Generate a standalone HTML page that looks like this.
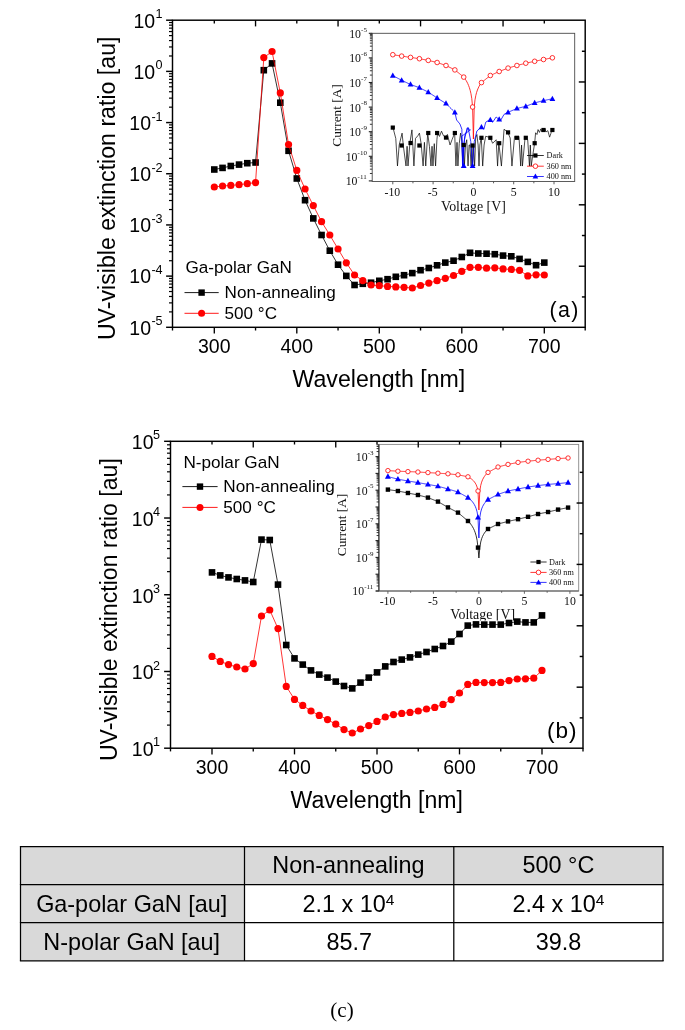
<!DOCTYPE html>
<html lang="en">
<head>
<meta charset="utf-8">
<title>UV-visible extinction ratio of Ga-polar and N-polar GaN</title>
<style>
html,body{margin:0;padding:0;background:#fff;}
body{width:685px;height:1030px;overflow:hidden;}
svg text{white-space:pre;}
</style>
</head>
<body>
<svg width="685" height="1030" viewBox="0 0 685 1030" style="display:block">
<rect x="0" y="0" width="685" height="1030" fill="#fff"/>
<g>
<rect x="372.2" y="33.3" width="202.5" height="148.2" fill="#fff" stroke="#4a4a4a" stroke-width="0.9"/>
<line x1="368.8" y1="33.3" x2="372.2" y2="33.3" stroke="#222" stroke-width="1.1" />
<line x1="368.8" y1="57.9" x2="372.2" y2="57.9" stroke="#222" stroke-width="1.1" />
<line x1="369.9" y1="50.49" x2="372.2" y2="50.49" stroke="#222" stroke-width="0.9" />
<line x1="369.9" y1="46.16" x2="372.2" y2="46.16" stroke="#222" stroke-width="0.9" />
<line x1="369.9" y1="43.09" x2="372.2" y2="43.09" stroke="#222" stroke-width="0.9" />
<line x1="369.9" y1="40.71" x2="372.2" y2="40.71" stroke="#222" stroke-width="0.9" />
<line x1="369.9" y1="38.76" x2="372.2" y2="38.76" stroke="#222" stroke-width="0.9" />
<line x1="369.9" y1="37.11" x2="372.2" y2="37.11" stroke="#222" stroke-width="0.9" />
<line x1="369.9" y1="35.68" x2="372.2" y2="35.68" stroke="#222" stroke-width="0.9" />
<line x1="369.9" y1="34.43" x2="372.2" y2="34.43" stroke="#222" stroke-width="0.9" />
<line x1="368.8" y1="82.5" x2="372.2" y2="82.5" stroke="#222" stroke-width="1.1" />
<line x1="369.9" y1="75.09" x2="372.2" y2="75.09" stroke="#222" stroke-width="0.9" />
<line x1="369.9" y1="70.76" x2="372.2" y2="70.76" stroke="#222" stroke-width="0.9" />
<line x1="369.9" y1="67.69" x2="372.2" y2="67.69" stroke="#222" stroke-width="0.9" />
<line x1="369.9" y1="65.31" x2="372.2" y2="65.31" stroke="#222" stroke-width="0.9" />
<line x1="369.9" y1="63.36" x2="372.2" y2="63.36" stroke="#222" stroke-width="0.9" />
<line x1="369.9" y1="61.71" x2="372.2" y2="61.71" stroke="#222" stroke-width="0.9" />
<line x1="369.9" y1="60.28" x2="372.2" y2="60.28" stroke="#222" stroke-width="0.9" />
<line x1="369.9" y1="59.03" x2="372.2" y2="59.03" stroke="#222" stroke-width="0.9" />
<line x1="368.8" y1="107.1" x2="372.2" y2="107.1" stroke="#222" stroke-width="1.1" />
<line x1="369.9" y1="99.69" x2="372.2" y2="99.69" stroke="#222" stroke-width="0.9" />
<line x1="369.9" y1="95.36" x2="372.2" y2="95.36" stroke="#222" stroke-width="0.9" />
<line x1="369.9" y1="92.29" x2="372.2" y2="92.29" stroke="#222" stroke-width="0.9" />
<line x1="369.9" y1="89.91" x2="372.2" y2="89.91" stroke="#222" stroke-width="0.9" />
<line x1="369.9" y1="87.96" x2="372.2" y2="87.96" stroke="#222" stroke-width="0.9" />
<line x1="369.9" y1="86.31" x2="372.2" y2="86.31" stroke="#222" stroke-width="0.9" />
<line x1="369.9" y1="84.88" x2="372.2" y2="84.88" stroke="#222" stroke-width="0.9" />
<line x1="369.9" y1="83.63" x2="372.2" y2="83.63" stroke="#222" stroke-width="0.9" />
<line x1="368.8" y1="131.7" x2="372.2" y2="131.7" stroke="#222" stroke-width="1.1" />
<line x1="369.9" y1="124.29" x2="372.2" y2="124.29" stroke="#222" stroke-width="0.9" />
<line x1="369.9" y1="119.96" x2="372.2" y2="119.96" stroke="#222" stroke-width="0.9" />
<line x1="369.9" y1="116.89" x2="372.2" y2="116.89" stroke="#222" stroke-width="0.9" />
<line x1="369.9" y1="114.51" x2="372.2" y2="114.51" stroke="#222" stroke-width="0.9" />
<line x1="369.9" y1="112.56" x2="372.2" y2="112.56" stroke="#222" stroke-width="0.9" />
<line x1="369.9" y1="110.91" x2="372.2" y2="110.91" stroke="#222" stroke-width="0.9" />
<line x1="369.9" y1="109.48" x2="372.2" y2="109.48" stroke="#222" stroke-width="0.9" />
<line x1="369.9" y1="108.23" x2="372.2" y2="108.23" stroke="#222" stroke-width="0.9" />
<line x1="368.8" y1="156.3" x2="372.2" y2="156.3" stroke="#222" stroke-width="1.1" />
<line x1="369.9" y1="148.89" x2="372.2" y2="148.89" stroke="#222" stroke-width="0.9" />
<line x1="369.9" y1="144.56" x2="372.2" y2="144.56" stroke="#222" stroke-width="0.9" />
<line x1="369.9" y1="141.49" x2="372.2" y2="141.49" stroke="#222" stroke-width="0.9" />
<line x1="369.9" y1="139.11" x2="372.2" y2="139.11" stroke="#222" stroke-width="0.9" />
<line x1="369.9" y1="137.16" x2="372.2" y2="137.16" stroke="#222" stroke-width="0.9" />
<line x1="369.9" y1="135.51" x2="372.2" y2="135.51" stroke="#222" stroke-width="0.9" />
<line x1="369.9" y1="134.08" x2="372.2" y2="134.08" stroke="#222" stroke-width="0.9" />
<line x1="369.9" y1="132.83" x2="372.2" y2="132.83" stroke="#222" stroke-width="0.9" />
<line x1="368.8" y1="180.9" x2="372.2" y2="180.9" stroke="#222" stroke-width="1.1" />
<line x1="369.9" y1="173.49" x2="372.2" y2="173.49" stroke="#222" stroke-width="0.9" />
<line x1="369.9" y1="169.16" x2="372.2" y2="169.16" stroke="#222" stroke-width="0.9" />
<line x1="369.9" y1="166.09" x2="372.2" y2="166.09" stroke="#222" stroke-width="0.9" />
<line x1="369.9" y1="163.71" x2="372.2" y2="163.71" stroke="#222" stroke-width="0.9" />
<line x1="369.9" y1="161.76" x2="372.2" y2="161.76" stroke="#222" stroke-width="0.9" />
<line x1="369.9" y1="160.11" x2="372.2" y2="160.11" stroke="#222" stroke-width="0.9" />
<line x1="369.9" y1="158.68" x2="372.2" y2="158.68" stroke="#222" stroke-width="0.9" />
<line x1="369.9" y1="157.43" x2="372.2" y2="157.43" stroke="#222" stroke-width="0.9" />
<line x1="392.8" y1="181.5" x2="392.8" y2="184.3" stroke="#4a4a4a" stroke-width="0.9" />
<line x1="412.95" y1="181.5" x2="412.95" y2="183.3" stroke="#4a4a4a" stroke-width="0.9" />
<line x1="433.1" y1="181.5" x2="433.1" y2="184.3" stroke="#4a4a4a" stroke-width="0.9" />
<line x1="453.25" y1="181.5" x2="453.25" y2="183.3" stroke="#4a4a4a" stroke-width="0.9" />
<line x1="473.4" y1="181.5" x2="473.4" y2="184.3" stroke="#4a4a4a" stroke-width="0.9" />
<line x1="493.55" y1="181.5" x2="493.55" y2="183.3" stroke="#4a4a4a" stroke-width="0.9" />
<line x1="513.7" y1="181.5" x2="513.7" y2="184.3" stroke="#4a4a4a" stroke-width="0.9" />
<line x1="533.85" y1="181.5" x2="533.85" y2="183.3" stroke="#4a4a4a" stroke-width="0.9" />
<line x1="554" y1="181.5" x2="554" y2="184.3" stroke="#4a4a4a" stroke-width="0.9" />
<text x="361.07" y="31.5" font-family='"Liberation Serif", "Times New Roman", Times, serif' font-size="7" text-anchor="start" fill="#111" >-5</text>
<text x="360.97" y="37.7" font-family='"Liberation Serif", "Times New Roman", Times, serif' font-size="11.8" text-anchor="end" fill="#111" >10</text>
<text x="361.07" y="56.1" font-family='"Liberation Serif", "Times New Roman", Times, serif' font-size="7" text-anchor="start" fill="#111" >-6</text>
<text x="360.97" y="62.3" font-family='"Liberation Serif", "Times New Roman", Times, serif' font-size="11.8" text-anchor="end" fill="#111" >10</text>
<text x="361.07" y="80.7" font-family='"Liberation Serif", "Times New Roman", Times, serif' font-size="7" text-anchor="start" fill="#111" >-7</text>
<text x="360.97" y="86.9" font-family='"Liberation Serif", "Times New Roman", Times, serif' font-size="11.8" text-anchor="end" fill="#111" >10</text>
<text x="361.07" y="105.3" font-family='"Liberation Serif", "Times New Roman", Times, serif' font-size="7" text-anchor="start" fill="#111" >-8</text>
<text x="360.97" y="111.5" font-family='"Liberation Serif", "Times New Roman", Times, serif' font-size="11.8" text-anchor="end" fill="#111" >10</text>
<text x="361.07" y="129.9" font-family='"Liberation Serif", "Times New Roman", Times, serif' font-size="7" text-anchor="start" fill="#111" >-9</text>
<text x="360.97" y="136.1" font-family='"Liberation Serif", "Times New Roman", Times, serif' font-size="11.8" text-anchor="end" fill="#111" >10</text>
<text x="357.57" y="154.5" font-family='"Liberation Serif", "Times New Roman", Times, serif' font-size="7" text-anchor="start" fill="#111" >-10</text>
<text x="357.47" y="160.7" font-family='"Liberation Serif", "Times New Roman", Times, serif' font-size="11.8" text-anchor="end" fill="#111" >10</text>
<text x="357.57" y="179.1" font-family='"Liberation Serif", "Times New Roman", Times, serif' font-size="7" text-anchor="start" fill="#111" >-11</text>
<text x="357.47" y="185.3" font-family='"Liberation Serif", "Times New Roman", Times, serif' font-size="11.8" text-anchor="end" fill="#111" >10</text>
<text x="392.4" y="195.8" font-family='"Liberation Serif", "Times New Roman", Times, serif' font-size="11.8" text-anchor="middle" fill="#111" >-10</text>
<text x="432.7" y="195.8" font-family='"Liberation Serif", "Times New Roman", Times, serif' font-size="11.8" text-anchor="middle" fill="#111" >-5</text>
<text x="473.4" y="195.8" font-family='"Liberation Serif", "Times New Roman", Times, serif' font-size="11.8" text-anchor="middle" fill="#111" >0</text>
<text x="513.7" y="195.8" font-family='"Liberation Serif", "Times New Roman", Times, serif' font-size="11.8" text-anchor="middle" fill="#111" >5</text>
<text x="554" y="195.8" font-family='"Liberation Serif", "Times New Roman", Times, serif' font-size="11.8" text-anchor="middle" fill="#111" >10</text>
<text transform="translate(341.4,115.5) rotate(-90)" font-family='"Liberation Serif", "Times New Roman", Times, serif' font-size="13.3" text-anchor="middle" fill="#111">Current [A]</text>
<text x="473.4" y="211" font-family='"Liberation Serif", "Times New Roman", Times, serif' font-size="13.9" text-anchor="middle" fill="#111" >Voltage [V]</text>
</g>
<polyline fill="none" stroke="#f00" stroke-width="0.8" stroke-linejoin="round"  points="392.8,54.7 393.61,54.83 394.41,54.95 395.22,55.08 396.02,55.21 396.83,55.34 397.64,55.46 398.44,55.59 399.25,55.72 400.05,55.85 400.86,55.97 401.67,56.1 402.47,56.22 403.28,56.34 404.08,56.45 404.89,56.57 405.7,56.69 406.5,56.81 407.31,56.93 408.11,57.05 408.92,57.16 409.73,57.28 410.53,57.4 411.34,57.52 412.14,57.64 412.95,57.75 413.76,57.87 414.56,57.99 415.37,58.11 416.17,58.23 416.98,58.35 417.79,58.46 418.59,58.58 419.4,58.7 420.2,58.85 421.01,59.01 421.82,59.16 422.62,59.32 423.43,59.47 424.23,59.63 425.04,59.78 425.85,59.94 426.65,60.09 427.46,60.25 428.26,60.4 429.07,60.59 429.88,60.78 430.68,60.97 431.49,61.16 432.29,61.35 433.1,61.55 433.91,61.74 434.71,61.93 435.52,62.12 436.32,62.31 437.13,62.5 437.94,62.77 438.74,63.05 439.55,63.32 440.35,63.59 441.16,63.86 441.97,64.14 442.77,64.41 443.58,64.68 444.38,64.95 445.19,65.23 446,65.5 446.8,65.9 447.61,66.3 448.41,66.7 449.22,67.1 450.03,67.5 450.83,67.9 451.64,68.3 452.44,68.7 453.25,69.1 454.06,69.5 454.86,69.9 455.67,70.55 456.47,71.21 457.28,71.86 458.09,72.52 458.89,73.17 459.7,73.83 460.5,74.48 461.31,75.14 462.12,75.79 462.92,76.45 463.73,77.1 464.53,78.15 465.34,79.29 466.15,80.56 466.95,81.98 467.76,83.59 468.56,85.44 469.37,87.63 470.18,90.32 470.98,93.78 471.79,98.66 472.59,107 473.4,139 474.21,107.2 475.01,99.79 475.82,95.46 476.62,92.39 477.43,90.01 478.24,88.06 479.04,86.41 479.85,84.98 480.65,83.73 481.46,82.6 482.27,81.95 483.07,81.31 483.88,80.66 484.68,80.02 485.49,79.37 486.3,78.73 487.1,78.08 487.91,77.44 488.71,76.79 489.52,76.15 490.33,75.5 491.13,75.14 491.94,74.77 492.74,74.41 493.55,74.05 494.36,73.68 495.16,73.32 495.97,72.95 496.77,72.59 497.58,72.23 498.39,71.86 499.19,71.5 500,71.19 500.8,70.88 501.61,70.57 502.42,70.26 503.22,69.95 504.03,69.65 504.83,69.34 505.64,69.03 506.45,68.72 507.25,68.41 508.06,68.1 508.86,67.86 509.67,67.63 510.48,67.39 511.28,67.15 512.09,66.92 512.89,66.68 513.7,66.45 514.51,66.21 515.31,65.97 516.12,65.74 516.92,65.5 517.73,65.29 518.54,65.08 519.34,64.87 520.15,64.66 520.95,64.45 521.76,64.25 522.57,64.04 523.37,63.83 524.18,63.62 524.98,63.41 525.79,63.2 526.6,63.03 527.4,62.85 528.21,62.68 529.01,62.51 529.82,62.34 530.63,62.16 531.43,61.99 532.24,61.82 533.04,61.65 533.85,61.47 534.66,61.3 535.46,61.14 536.27,60.97 537.07,60.81 537.88,60.65 538.69,60.48 539.49,60.32 540.3,60.15 541.1,59.99 541.91,59.83 542.72,59.66 543.52,59.5 544.33,59.35 545.13,59.19 545.94,59.04 546.75,58.88 547.55,58.73 548.36,58.57 549.16,58.42 549.97,58.26 550.78,58.11 551.58,57.95 552.39,57.8"/>
<polyline fill="none" stroke="#000" stroke-width="0.7" stroke-linejoin="round"  points="392.88,127.23 395.78,138.4 397.48,165.99 399.19,144.97 402.08,133.14 403.4,146.28 406.02,165.99 407.08,146.28 408,165.99 409.97,142.34 411.94,129.86 412.86,146.28 413.91,165.99 415.49,138.4 417.85,135.77 419.43,133.14 421.14,143.65 423.11,165.99 424.42,142.34 425.74,165.99 427.71,133.14 429.42,146.28 430.99,165.99 432.04,146.28 432.96,165.99 434.28,143.65 435.59,165.99 436.91,139.71 437.56,133.14 439.53,136.43 441.5,131.17 443.48,135.77 445.45,137.08 447.42,134.45 450.05,144.97 452.02,139.71 454.65,133.14 455.96,165.99 457.01,142.34 457.93,165.99 459.24,143.65 460.56,133.14 461.87,141.02 462.79,165.99 463.58,144.97 464.37,165.99 465.42,146.28 466.73,139.71 468.05,165.99 469.1,144.97 469.89,145.04 471.12,166.06 471.99,145.04 472.52,166.06 473.57,146.79 474.62,166.06 475.67,138.03 476.9,134.53 478.13,145.04 479,166.06 479.88,145.04 481.28,137.51 482.68,166.06 484.08,145.04 485.66,136.28 490.04,137.51 492.67,143.29 496.17,139.78 497.57,166.06 498.8,142.76 501.43,166.06 504.05,129.27 507.56,131.9 510.19,138.03 511.94,166.06 514.57,136.28 516.32,137.51 518.95,136.28 520.7,166.06 521.57,145.04 522.45,166.06 525.08,137.51 527.7,139.78 529.46,166.06 530.33,145.04 531.21,166.06 532.96,153.8 534.71,142.76 535.59,132.78 536.99,134.53 538.04,129.62 539.44,132.42 540.84,128.92 542.07,131.9 543.12,129.62 544.7,128.4 546.1,131.9 547.85,130.67 549.6,137.15 550.83,133.65 551.88,129.62"/>
<polyline fill="none" stroke="#00f" stroke-width="0.8" stroke-linejoin="round"  points="392.8,75.6 393.61,76.03 394.41,76.45 395.22,76.88 396.02,77.31 396.83,77.74 397.64,78.16 398.44,78.59 399.25,79.02 400.05,79.45 400.86,79.87 401.67,80.3 402.47,80.68 403.28,81.06 404.08,81.45 404.89,81.83 405.7,82.21 406.5,82.59 407.31,82.97 408.11,83.35 408.92,83.74 409.73,84.12 410.53,84.5 411.34,84.79 412.14,85.08 412.95,85.37 413.76,85.66 414.56,85.95 415.37,86.25 416.17,86.54 416.98,86.83 417.79,87.12 418.59,87.41 419.4,87.7 420.2,88.1 421.01,88.5 421.82,88.9 422.62,89.3 423.43,89.7 424.23,90.1 425.04,90.5 425.85,90.9 426.65,91.3 427.46,91.7 428.26,92.1 429.07,92.64 429.88,93.17 430.68,93.71 431.49,94.25 432.29,94.78 433.1,95.32 433.91,95.85 434.71,96.39 435.52,96.93 436.32,97.46 437.13,98 437.94,98.5 438.74,99 439.55,99.5 440.35,100 441.16,100.5 441.97,101 442.77,101.5 443.58,102 444.38,102.5 445.19,103 446,103.5 446.8,104.31 447.61,105.12 448.41,105.93 449.22,106.74 450.03,107.55 450.83,108.35 451.64,109.16 452.44,109.97 453.25,110.78 454.06,111.59 454.86,112.4 456.62,120 459.9,123.94 461.87,129.2 462.53,165.99 463.58,146.28 464.5,139.71 467.13,127.88 470.41,129.86 461.66,136.28 462.88,166.06 464.64,136.28 468.14,127.52 470.77,141.53 472.52,166.06 474.27,141.53 476.9,131.02 481.28,126.99 483.91,129.27 485.66,122.26 488.29,120.51 490.04,119.99 492.67,122.26 496.17,117.01 498.8,119.29 500.55,120.51 504.05,114.38 507.56,112.45 508.86,111.95 509.67,111.61 510.48,111.26 511.28,110.92 512.09,110.57 512.89,110.23 513.7,109.88 514.51,109.54 515.31,109.19 516.12,108.85 516.92,108.5 517.73,108.3 518.54,108.1 519.34,107.9 520.15,107.7 520.95,107.5 521.76,107.3 522.57,107.1 523.37,106.9 524.18,106.7 524.98,106.5 525.79,106.3 526.6,105.99 527.4,105.68 528.21,105.37 529.01,105.06 529.82,104.75 530.63,104.45 531.43,104.14 532.24,103.83 533.04,103.52 533.85,103.21 534.66,102.9 535.46,102.69 536.27,102.48 537.07,102.27 537.88,102.06 538.69,101.85 539.49,101.65 540.3,101.44 541.1,101.23 541.91,101.02 542.72,100.81 543.52,100.6 544.33,100.44 545.13,100.27 545.94,100.11 546.75,99.95 547.55,99.78 548.36,99.62 549.16,99.45 549.97,99.29 550.78,99.13 551.58,98.96 552.39,98.8"/>
<rect x="390.7" y="125.5" width="4.2" height="4.2" fill="#000"/>
<rect x="399.57" y="143.4" width="4.2" height="4.2" fill="#000"/>
<rect x="408.43" y="140.9" width="4.2" height="4.2" fill="#000"/>
<rect x="417.3" y="143.4" width="4.2" height="4.2" fill="#000"/>
<rect x="426.16" y="130.9" width="4.2" height="4.2" fill="#000"/>
<rect x="435.03" y="130.9" width="4.2" height="4.2" fill="#000"/>
<rect x="443.9" y="135.5" width="4.2" height="4.2" fill="#000"/>
<rect x="452.76" y="130.9" width="4.2" height="4.2" fill="#000"/>
<rect x="461.63" y="142.9" width="4.2" height="4.2" fill="#000"/>
<rect x="470.49" y="143.4" width="4.2" height="4.2" fill="#000"/>
<rect x="479.36" y="135.7" width="4.2" height="4.2" fill="#000"/>
<rect x="488.23" y="135.7" width="4.2" height="4.2" fill="#000"/>
<rect x="497.09" y="141.1" width="4.2" height="4.2" fill="#000"/>
<rect x="505.96" y="130.3" width="4.2" height="4.2" fill="#000"/>
<rect x="514.82" y="135.7" width="4.2" height="4.2" fill="#000"/>
<rect x="523.69" y="135.7" width="4.2" height="4.2" fill="#000"/>
<rect x="532.56" y="141.1" width="4.2" height="4.2" fill="#000"/>
<rect x="541.42" y="127.9" width="4.2" height="4.2" fill="#000"/>
<rect x="550.29" y="127.9" width="4.2" height="4.2" fill="#000"/>
<polygon points="392.8,72.47 389.9,77.69 395.7,77.69" fill="#00f"/>
<polygon points="401.67,77.17 398.77,82.39 404.57,82.39" fill="#00f"/>
<polygon points="410.53,81.37 407.63,86.59 413.43,86.59" fill="#00f"/>
<polygon points="419.4,84.57 416.5,89.79 422.3,89.79" fill="#00f"/>
<polygon points="428.26,88.97 425.36,94.19 431.16,94.19" fill="#00f"/>
<polygon points="437.13,94.87 434.23,100.09 440.03,100.09" fill="#00f"/>
<polygon points="446,100.37 443.1,105.59 448.9,105.59" fill="#00f"/>
<polygon points="454.86,109.27 451.96,114.49 457.76,114.49" fill="#00f"/>
<polygon points="463.73,162.77 460.83,167.99 466.63,167.99" fill="#00f"/>
<polygon points="472.59,162.77 469.69,167.99 475.49,167.99" fill="#00f"/>
<polygon points="481.46,124.07 478.56,129.29 484.36,129.29" fill="#00f"/>
<polygon points="490.33,116.87 487.43,122.09 493.23,122.09" fill="#00f"/>
<polygon points="499.19,116.17 496.29,121.39 502.09,121.39" fill="#00f"/>
<polygon points="508.06,109.17 505.16,114.39 510.96,114.39" fill="#00f"/>
<polygon points="516.92,105.37 514.02,110.59 519.82,110.59" fill="#00f"/>
<polygon points="525.79,103.17 522.89,108.39 528.69,108.39" fill="#00f"/>
<polygon points="534.66,99.77 531.76,104.99 537.56,104.99" fill="#00f"/>
<polygon points="543.52,97.47 540.62,102.69 546.42,102.69" fill="#00f"/>
<polygon points="552.39,95.67 549.49,100.89 555.29,100.89" fill="#00f"/>
<circle cx="392.8" cy="54.7" r="2.3" fill="#fff" stroke="#f00" stroke-width="0.8"/>
<circle cx="401.67" cy="56.1" r="2.3" fill="#fff" stroke="#f00" stroke-width="0.8"/>
<circle cx="410.53" cy="57.4" r="2.3" fill="#fff" stroke="#f00" stroke-width="0.8"/>
<circle cx="419.4" cy="58.7" r="2.3" fill="#fff" stroke="#f00" stroke-width="0.8"/>
<circle cx="428.26" cy="60.4" r="2.3" fill="#fff" stroke="#f00" stroke-width="0.8"/>
<circle cx="437.13" cy="62.5" r="2.3" fill="#fff" stroke="#f00" stroke-width="0.8"/>
<circle cx="446" cy="65.5" r="2.3" fill="#fff" stroke="#f00" stroke-width="0.8"/>
<circle cx="454.86" cy="69.9" r="2.3" fill="#fff" stroke="#f00" stroke-width="0.8"/>
<circle cx="463.73" cy="77.1" r="2.3" fill="#fff" stroke="#f00" stroke-width="0.8"/>
<circle cx="472.59" cy="107" r="2.3" fill="#fff" stroke="#f00" stroke-width="0.8"/>
<circle cx="481.46" cy="82.6" r="2.3" fill="#fff" stroke="#f00" stroke-width="0.8"/>
<circle cx="490.33" cy="75.5" r="2.3" fill="#fff" stroke="#f00" stroke-width="0.8"/>
<circle cx="499.19" cy="71.5" r="2.3" fill="#fff" stroke="#f00" stroke-width="0.8"/>
<circle cx="508.06" cy="68.1" r="2.3" fill="#fff" stroke="#f00" stroke-width="0.8"/>
<circle cx="516.92" cy="65.5" r="2.3" fill="#fff" stroke="#f00" stroke-width="0.8"/>
<circle cx="525.79" cy="63.2" r="2.3" fill="#fff" stroke="#f00" stroke-width="0.8"/>
<circle cx="534.66" cy="61.3" r="2.3" fill="#fff" stroke="#f00" stroke-width="0.8"/>
<circle cx="543.52" cy="59.5" r="2.3" fill="#fff" stroke="#f00" stroke-width="0.8"/>
<circle cx="552.39" cy="57.8" r="2.3" fill="#fff" stroke="#f00" stroke-width="0.8"/>
<line x1="527" y1="155.5" x2="543.8" y2="155.5" stroke="#000" stroke-width="0.8" />
<rect x="533.3" y="153.4" width="4.2" height="4.2" fill="#000"/>
<text x="546.6" y="158.21" font-family='"Liberation Serif", "Times New Roman", Times, serif' font-size="8.2" text-anchor="start" fill="#111" >Dark</text>
<line x1="527" y1="166.2" x2="543.8" y2="166.2" stroke="#f00" stroke-width="0.8" />
<circle cx="535.4" cy="166.2" r="2.3" fill="#fff" stroke="#f00" stroke-width="0.8"/>
<text x="546.6" y="168.91" font-family='"Liberation Serif", "Times New Roman", Times, serif' font-size="8.2" text-anchor="start" fill="#111" >360 nm</text>
<line x1="527" y1="176.5" x2="543.8" y2="176.5" stroke="#00f" stroke-width="0.8" />
<polygon points="535.4,173.48 532.6,178.52 538.2,178.52" fill="#00f"/>
<text x="546.6" y="179.21" font-family='"Liberation Serif", "Times New Roman", Times, serif' font-size="8.2" text-anchor="start" fill="#111" >400 nm</text>
<g>
<rect x="378.9" y="444.4" width="199.8" height="146.6" fill="#fff" stroke="#888" stroke-width="0.9"/>
<polyline fill="none" stroke="#2a2a2a" stroke-width="1.1" stroke-linejoin="round"  points="378.9,444.4 378.9,591"/>
<polyline fill="none" stroke="#5a5a5a" stroke-width="1.1" stroke-linejoin="round"  points="375.9,591 578.7,591"/>
<line x1="375.5" y1="456.6" x2="378.9" y2="456.6" stroke="#222" stroke-width="1.1" />
<line x1="376.6" y1="451.54" x2="378.9" y2="451.54" stroke="#222" stroke-width="0.9" />
<line x1="376.6" y1="448.58" x2="378.9" y2="448.58" stroke="#222" stroke-width="0.9" />
<line x1="376.6" y1="446.49" x2="378.9" y2="446.49" stroke="#222" stroke-width="0.9" />
<line x1="376.6" y1="444.86" x2="378.9" y2="444.86" stroke="#222" stroke-width="0.9" />
<line x1="375.5" y1="473.4" x2="378.9" y2="473.4" stroke="#222" stroke-width="1.1" />
<line x1="376.6" y1="468.34" x2="378.9" y2="468.34" stroke="#222" stroke-width="0.9" />
<line x1="376.6" y1="465.38" x2="378.9" y2="465.38" stroke="#222" stroke-width="0.9" />
<line x1="376.6" y1="463.29" x2="378.9" y2="463.29" stroke="#222" stroke-width="0.9" />
<line x1="376.6" y1="461.66" x2="378.9" y2="461.66" stroke="#222" stroke-width="0.9" />
<line x1="376.6" y1="460.33" x2="378.9" y2="460.33" stroke="#222" stroke-width="0.9" />
<line x1="376.6" y1="459.2" x2="378.9" y2="459.2" stroke="#222" stroke-width="0.9" />
<line x1="376.6" y1="458.23" x2="378.9" y2="458.23" stroke="#222" stroke-width="0.9" />
<line x1="376.6" y1="457.37" x2="378.9" y2="457.37" stroke="#222" stroke-width="0.9" />
<line x1="375.5" y1="490.2" x2="378.9" y2="490.2" stroke="#222" stroke-width="1.1" />
<line x1="376.6" y1="485.14" x2="378.9" y2="485.14" stroke="#222" stroke-width="0.9" />
<line x1="376.6" y1="482.18" x2="378.9" y2="482.18" stroke="#222" stroke-width="0.9" />
<line x1="376.6" y1="480.09" x2="378.9" y2="480.09" stroke="#222" stroke-width="0.9" />
<line x1="376.6" y1="478.46" x2="378.9" y2="478.46" stroke="#222" stroke-width="0.9" />
<line x1="376.6" y1="477.13" x2="378.9" y2="477.13" stroke="#222" stroke-width="0.9" />
<line x1="376.6" y1="476" x2="378.9" y2="476" stroke="#222" stroke-width="0.9" />
<line x1="376.6" y1="475.03" x2="378.9" y2="475.03" stroke="#222" stroke-width="0.9" />
<line x1="376.6" y1="474.17" x2="378.9" y2="474.17" stroke="#222" stroke-width="0.9" />
<line x1="375.5" y1="507" x2="378.9" y2="507" stroke="#222" stroke-width="1.1" />
<line x1="376.6" y1="501.94" x2="378.9" y2="501.94" stroke="#222" stroke-width="0.9" />
<line x1="376.6" y1="498.98" x2="378.9" y2="498.98" stroke="#222" stroke-width="0.9" />
<line x1="376.6" y1="496.89" x2="378.9" y2="496.89" stroke="#222" stroke-width="0.9" />
<line x1="376.6" y1="495.26" x2="378.9" y2="495.26" stroke="#222" stroke-width="0.9" />
<line x1="376.6" y1="493.93" x2="378.9" y2="493.93" stroke="#222" stroke-width="0.9" />
<line x1="376.6" y1="492.8" x2="378.9" y2="492.8" stroke="#222" stroke-width="0.9" />
<line x1="376.6" y1="491.83" x2="378.9" y2="491.83" stroke="#222" stroke-width="0.9" />
<line x1="376.6" y1="490.97" x2="378.9" y2="490.97" stroke="#222" stroke-width="0.9" />
<line x1="375.5" y1="523.8" x2="378.9" y2="523.8" stroke="#222" stroke-width="1.1" />
<line x1="376.6" y1="518.74" x2="378.9" y2="518.74" stroke="#222" stroke-width="0.9" />
<line x1="376.6" y1="515.78" x2="378.9" y2="515.78" stroke="#222" stroke-width="0.9" />
<line x1="376.6" y1="513.69" x2="378.9" y2="513.69" stroke="#222" stroke-width="0.9" />
<line x1="376.6" y1="512.06" x2="378.9" y2="512.06" stroke="#222" stroke-width="0.9" />
<line x1="376.6" y1="510.73" x2="378.9" y2="510.73" stroke="#222" stroke-width="0.9" />
<line x1="376.6" y1="509.6" x2="378.9" y2="509.6" stroke="#222" stroke-width="0.9" />
<line x1="376.6" y1="508.63" x2="378.9" y2="508.63" stroke="#222" stroke-width="0.9" />
<line x1="376.6" y1="507.77" x2="378.9" y2="507.77" stroke="#222" stroke-width="0.9" />
<line x1="375.5" y1="540.6" x2="378.9" y2="540.6" stroke="#222" stroke-width="1.1" />
<line x1="376.6" y1="535.54" x2="378.9" y2="535.54" stroke="#222" stroke-width="0.9" />
<line x1="376.6" y1="532.58" x2="378.9" y2="532.58" stroke="#222" stroke-width="0.9" />
<line x1="376.6" y1="530.49" x2="378.9" y2="530.49" stroke="#222" stroke-width="0.9" />
<line x1="376.6" y1="528.86" x2="378.9" y2="528.86" stroke="#222" stroke-width="0.9" />
<line x1="376.6" y1="527.53" x2="378.9" y2="527.53" stroke="#222" stroke-width="0.9" />
<line x1="376.6" y1="526.4" x2="378.9" y2="526.4" stroke="#222" stroke-width="0.9" />
<line x1="376.6" y1="525.43" x2="378.9" y2="525.43" stroke="#222" stroke-width="0.9" />
<line x1="376.6" y1="524.57" x2="378.9" y2="524.57" stroke="#222" stroke-width="0.9" />
<line x1="375.5" y1="557.4" x2="378.9" y2="557.4" stroke="#222" stroke-width="1.1" />
<line x1="376.6" y1="552.34" x2="378.9" y2="552.34" stroke="#222" stroke-width="0.9" />
<line x1="376.6" y1="549.38" x2="378.9" y2="549.38" stroke="#222" stroke-width="0.9" />
<line x1="376.6" y1="547.29" x2="378.9" y2="547.29" stroke="#222" stroke-width="0.9" />
<line x1="376.6" y1="545.66" x2="378.9" y2="545.66" stroke="#222" stroke-width="0.9" />
<line x1="376.6" y1="544.33" x2="378.9" y2="544.33" stroke="#222" stroke-width="0.9" />
<line x1="376.6" y1="543.2" x2="378.9" y2="543.2" stroke="#222" stroke-width="0.9" />
<line x1="376.6" y1="542.23" x2="378.9" y2="542.23" stroke="#222" stroke-width="0.9" />
<line x1="376.6" y1="541.37" x2="378.9" y2="541.37" stroke="#222" stroke-width="0.9" />
<line x1="375.5" y1="574.2" x2="378.9" y2="574.2" stroke="#222" stroke-width="1.1" />
<line x1="376.6" y1="569.14" x2="378.9" y2="569.14" stroke="#222" stroke-width="0.9" />
<line x1="376.6" y1="566.18" x2="378.9" y2="566.18" stroke="#222" stroke-width="0.9" />
<line x1="376.6" y1="564.09" x2="378.9" y2="564.09" stroke="#222" stroke-width="0.9" />
<line x1="376.6" y1="562.46" x2="378.9" y2="562.46" stroke="#222" stroke-width="0.9" />
<line x1="376.6" y1="561.13" x2="378.9" y2="561.13" stroke="#222" stroke-width="0.9" />
<line x1="376.6" y1="560" x2="378.9" y2="560" stroke="#222" stroke-width="0.9" />
<line x1="376.6" y1="559.03" x2="378.9" y2="559.03" stroke="#222" stroke-width="0.9" />
<line x1="376.6" y1="558.17" x2="378.9" y2="558.17" stroke="#222" stroke-width="0.9" />
<line x1="375.5" y1="591" x2="378.9" y2="591" stroke="#222" stroke-width="1.1" />
<line x1="376.6" y1="585.94" x2="378.9" y2="585.94" stroke="#222" stroke-width="0.9" />
<line x1="376.6" y1="582.98" x2="378.9" y2="582.98" stroke="#222" stroke-width="0.9" />
<line x1="376.6" y1="580.89" x2="378.9" y2="580.89" stroke="#222" stroke-width="0.9" />
<line x1="376.6" y1="579.26" x2="378.9" y2="579.26" stroke="#222" stroke-width="0.9" />
<line x1="376.6" y1="577.93" x2="378.9" y2="577.93" stroke="#222" stroke-width="0.9" />
<line x1="376.6" y1="576.8" x2="378.9" y2="576.8" stroke="#222" stroke-width="0.9" />
<line x1="376.6" y1="575.83" x2="378.9" y2="575.83" stroke="#222" stroke-width="0.9" />
<line x1="376.6" y1="574.97" x2="378.9" y2="574.97" stroke="#222" stroke-width="0.9" />
<line x1="387.9" y1="591" x2="387.9" y2="593.8" stroke="#5a5a5a" stroke-width="0.9" />
<line x1="410.65" y1="591" x2="410.65" y2="592.8" stroke="#5a5a5a" stroke-width="0.9" />
<line x1="433.4" y1="591" x2="433.4" y2="593.8" stroke="#5a5a5a" stroke-width="0.9" />
<line x1="456.15" y1="591" x2="456.15" y2="592.8" stroke="#5a5a5a" stroke-width="0.9" />
<line x1="478.9" y1="591" x2="478.9" y2="593.8" stroke="#5a5a5a" stroke-width="0.9" />
<line x1="501.65" y1="591" x2="501.65" y2="592.8" stroke="#5a5a5a" stroke-width="0.9" />
<line x1="524.4" y1="591" x2="524.4" y2="593.8" stroke="#5a5a5a" stroke-width="0.9" />
<line x1="547.15" y1="591" x2="547.15" y2="592.8" stroke="#5a5a5a" stroke-width="0.9" />
<line x1="569.9" y1="591" x2="569.9" y2="593.8" stroke="#5a5a5a" stroke-width="0.9" />
<text x="367.77" y="454.8" font-family='"Liberation Serif", "Times New Roman", Times, serif' font-size="7" text-anchor="start" fill="#111" >-3</text>
<text x="367.67" y="461" font-family='"Liberation Serif", "Times New Roman", Times, serif' font-size="11.8" text-anchor="end" fill="#111" >10</text>
<text x="367.77" y="488.4" font-family='"Liberation Serif", "Times New Roman", Times, serif' font-size="7" text-anchor="start" fill="#111" >-5</text>
<text x="367.67" y="494.6" font-family='"Liberation Serif", "Times New Roman", Times, serif' font-size="11.8" text-anchor="end" fill="#111" >10</text>
<text x="367.77" y="522" font-family='"Liberation Serif", "Times New Roman", Times, serif' font-size="7" text-anchor="start" fill="#111" >-7</text>
<text x="367.67" y="528.2" font-family='"Liberation Serif", "Times New Roman", Times, serif' font-size="11.8" text-anchor="end" fill="#111" >10</text>
<text x="367.77" y="555.6" font-family='"Liberation Serif", "Times New Roman", Times, serif' font-size="7" text-anchor="start" fill="#111" >-9</text>
<text x="367.67" y="561.8" font-family='"Liberation Serif", "Times New Roman", Times, serif' font-size="11.8" text-anchor="end" fill="#111" >10</text>
<text x="364.27" y="589.2" font-family='"Liberation Serif", "Times New Roman", Times, serif' font-size="7" text-anchor="start" fill="#111" >-11</text>
<text x="364.17" y="595.4" font-family='"Liberation Serif", "Times New Roman", Times, serif' font-size="11.8" text-anchor="end" fill="#111" >10</text>
<text x="387.5" y="605.4" font-family='"Liberation Serif", "Times New Roman", Times, serif' font-size="11.8" text-anchor="middle" fill="#111" >-10</text>
<text x="433" y="605.4" font-family='"Liberation Serif", "Times New Roman", Times, serif' font-size="11.8" text-anchor="middle" fill="#111" >-5</text>
<text x="478.9" y="605.4" font-family='"Liberation Serif", "Times New Roman", Times, serif' font-size="11.8" text-anchor="middle" fill="#111" >0</text>
<text x="524.4" y="605.4" font-family='"Liberation Serif", "Times New Roman", Times, serif' font-size="11.8" text-anchor="middle" fill="#111" >5</text>
<text x="569.9" y="605.4" font-family='"Liberation Serif", "Times New Roman", Times, serif' font-size="11.8" text-anchor="middle" fill="#111" >10</text>
<text transform="translate(346,525) rotate(-90)" font-family='"Liberation Serif", "Times New Roman", Times, serif' font-size="13.3" text-anchor="middle" fill="#111">Current [A]</text>
<clipPath id="cb"><rect x="328.9" y="444.4" width="300" height="176.1"/></clipPath>
<text x="482.7" y="619" font-family='"Liberation Serif", "Times New Roman", Times, serif' font-size="13.9" text-anchor="middle" fill="#111" clip-path="url(#cb)">Voltage [V]</text>
</g>
<polyline fill="none" stroke="#000" stroke-width="0.8" stroke-linejoin="round"  points="387.9,489.6 388.81,489.73 389.72,489.85 390.63,489.98 391.54,490.11 392.45,490.24 393.36,490.36 394.27,490.49 395.18,490.62 396.09,490.75 397,490.87 397.91,491 398.82,491.18 399.73,491.36 400.64,491.55 401.55,491.73 402.46,491.91 403.37,492.09 404.28,492.27 405.19,492.45 406.1,492.64 407.01,492.82 407.92,493 408.83,493.18 409.74,493.36 410.65,493.55 411.56,493.73 412.47,493.91 413.38,494.09 414.29,494.27 415.2,494.45 416.11,494.64 417.02,494.82 417.93,495 418.84,495.24 419.75,495.47 420.66,495.71 421.57,495.95 422.48,496.18 423.39,496.42 424.3,496.65 425.21,496.89 426.12,497.13 427.03,497.36 427.94,497.6 428.85,497.96 429.76,498.33 430.67,498.69 431.58,499.05 432.49,499.42 433.4,499.78 434.31,500.15 435.22,500.51 436.13,500.87 437.04,501.24 437.95,501.6 438.86,502.13 439.77,502.65 440.68,503.18 441.59,503.71 442.5,504.24 443.41,504.76 444.32,505.29 445.23,505.82 446.14,506.35 447.05,506.87 447.96,507.4 448.87,507.87 449.78,508.35 450.69,508.82 451.6,509.29 452.51,509.76 453.42,510.24 454.33,510.71 455.24,511.18 456.15,511.65 457.06,512.13 457.97,512.6 458.88,513.36 459.79,514.13 460.7,514.89 461.61,515.65 462.52,516.42 463.43,517.18 464.34,517.95 465.25,518.71 466.16,519.47 467.07,520.24 467.98,521 468.89,521.93 469.8,522.95 470.71,524.08 471.62,525.34 472.53,526.77 473.44,528.42 474.35,530.37 475.26,532.76 476.17,535.84 477.08,540.18 477.99,547.6 478.9,558 479.81,547.6 480.72,542 481.63,538.73 482.54,536.4 483.45,534.6 484.36,533.13 485.27,531.88 486.18,530.8 487.09,529.85 488,529 488.91,528.55 489.82,528.09 490.73,527.64 491.64,527.18 492.55,526.73 493.46,526.27 494.37,525.82 495.28,525.36 496.19,524.91 497.1,524.45 498.01,524 498.92,523.76 499.83,523.53 500.74,523.29 501.65,523.05 502.56,522.82 503.47,522.58 504.38,522.35 505.29,522.11 506.2,521.87 507.11,521.64 508.02,521.4 508.93,521.2 509.84,521 510.75,520.8 511.66,520.6 512.57,520.4 513.48,520.2 514.39,520 515.3,519.8 516.21,519.6 517.12,519.4 518.03,519.2 518.94,518.98 519.85,518.76 520.76,518.55 521.67,518.33 522.58,518.11 523.49,517.89 524.4,517.67 525.31,517.45 526.22,517.24 527.13,517.02 528.04,516.8 528.95,516.55 529.86,516.29 530.77,516.04 531.68,515.78 532.59,515.53 533.5,515.27 534.41,515.02 535.32,514.76 536.23,514.51 537.14,514.25 538.05,514 538.96,513.82 539.87,513.64 540.78,513.45 541.69,513.27 542.6,513.09 543.51,512.91 544.42,512.73 545.33,512.55 546.24,512.36 547.15,512.18 548.06,512 548.97,511.78 549.88,511.56 550.79,511.35 551.7,511.13 552.61,510.91 553.52,510.69 554.43,510.47 555.34,510.25 556.25,510.04 557.16,509.82 558.07,509.6 558.98,509.42 559.89,509.24 560.8,509.05 561.71,508.87 562.62,508.69 563.53,508.51 564.44,508.33 565.35,508.15 566.26,507.96 567.17,507.78 568.08,507.6"/>
<polyline fill="none" stroke="#00f" stroke-width="0.8" stroke-linejoin="round"  points="387.9,476.6 388.81,476.84 389.72,477.07 390.63,477.31 391.54,477.55 392.45,477.78 393.36,478.02 394.27,478.25 395.18,478.49 396.09,478.73 397,478.96 397.91,479.2 398.82,479.36 399.73,479.53 400.64,479.69 401.55,479.85 402.46,480.02 403.37,480.18 404.28,480.35 405.19,480.51 406.1,480.67 407.01,480.84 407.92,481 408.83,481.15 409.74,481.29 410.65,481.44 411.56,481.58 412.47,481.73 413.38,481.87 414.29,482.02 415.2,482.16 416.11,482.31 417.02,482.45 417.93,482.6 418.84,482.76 419.75,482.93 420.66,483.09 421.57,483.25 422.48,483.42 423.39,483.58 424.3,483.75 425.21,483.91 426.12,484.07 427.03,484.24 427.94,484.4 428.85,484.56 429.76,484.73 430.67,484.89 431.58,485.05 432.49,485.22 433.4,485.38 434.31,485.55 435.22,485.71 436.13,485.87 437.04,486.04 437.95,486.2 438.86,486.45 439.77,486.71 440.68,486.96 441.59,487.22 442.5,487.47 443.41,487.73 444.32,487.98 445.23,488.24 446.14,488.49 447.05,488.75 447.96,489 448.87,489.27 449.78,489.55 450.69,489.82 451.6,490.09 452.51,490.36 453.42,490.64 454.33,490.91 455.24,491.18 456.15,491.45 457.06,491.73 457.97,492 458.88,492.51 459.79,493.02 460.7,493.53 461.61,494.04 462.52,494.55 463.43,495.05 464.34,495.56 465.25,496.07 466.16,496.58 467.07,497.09 467.98,497.6 468.89,498.29 469.8,499.05 470.71,499.89 471.62,500.83 472.53,501.89 473.44,503.12 474.35,504.58 475.26,506.35 476.17,508.65 477.08,511.88 477.99,517.4 478.9,538 479.81,517.4 480.72,512.04 481.63,508.91 482.54,506.68 483.45,504.96 484.36,503.55 485.27,502.36 486.18,501.32 487.09,500.41 488,499.6 488.91,499.13 489.82,498.65 490.73,498.18 491.64,497.71 492.55,497.24 493.46,496.76 494.37,496.29 495.28,495.82 496.19,495.35 497.1,494.87 498.01,494.4 498.92,494.09 499.83,493.78 500.74,493.47 501.65,493.16 502.56,492.85 503.47,492.55 504.38,492.24 505.29,491.93 506.2,491.62 507.11,491.31 508.02,491 508.93,490.82 509.84,490.64 510.75,490.45 511.66,490.27 512.57,490.09 513.48,489.91 514.39,489.73 515.3,489.55 516.21,489.36 517.12,489.18 518.03,489 518.94,488.82 519.85,488.64 520.76,488.45 521.67,488.27 522.58,488.09 523.49,487.91 524.4,487.73 525.31,487.55 526.22,487.36 527.13,487.18 528.04,487 528.95,486.87 529.86,486.75 530.77,486.62 531.68,486.49 532.59,486.36 533.5,486.24 534.41,486.11 535.32,485.98 536.23,485.85 537.14,485.73 538.05,485.6 538.96,485.49 539.87,485.38 540.78,485.27 541.69,485.16 542.6,485.05 543.51,484.95 544.42,484.84 545.33,484.73 546.24,484.62 547.15,484.51 548.06,484.4 548.97,484.33 549.88,484.25 550.79,484.18 551.7,484.11 552.61,484.04 553.52,483.96 554.43,483.89 555.34,483.82 556.25,483.75 557.16,483.67 558.07,483.6 558.98,483.51 559.89,483.42 560.8,483.33 561.71,483.24 562.62,483.15 563.53,483.05 564.44,482.96 565.35,482.87 566.26,482.78 567.17,482.69 568.08,482.6"/>
<polyline fill="none" stroke="#f00" stroke-width="0.8" stroke-linejoin="round"  points="387.9,470.6 388.81,470.65 389.72,470.71 390.63,470.76 391.54,470.82 392.45,470.87 393.36,470.93 394.27,470.98 395.18,471.04 396.09,471.09 397,471.15 397.91,471.2 398.82,471.24 399.73,471.27 400.64,471.31 401.55,471.35 402.46,471.38 403.37,471.42 404.28,471.45 405.19,471.49 406.1,471.53 407.01,471.56 407.92,471.6 408.83,471.64 409.74,471.67 410.65,471.71 411.56,471.75 412.47,471.78 413.38,471.82 414.29,471.85 415.2,471.89 416.11,471.93 417.02,471.96 417.93,472 418.84,472.05 419.75,472.11 420.66,472.16 421.57,472.22 422.48,472.27 423.39,472.33 424.3,472.38 425.21,472.44 426.12,472.49 427.03,472.55 427.94,472.6 428.85,472.65 429.76,472.71 430.67,472.76 431.58,472.82 432.49,472.87 433.4,472.93 434.31,472.98 435.22,473.04 436.13,473.09 437.04,473.15 437.95,473.2 438.86,473.25 439.77,473.31 440.68,473.36 441.59,473.42 442.5,473.47 443.41,473.53 444.32,473.58 445.23,473.64 446.14,473.69 447.05,473.75 447.96,473.8 448.87,473.89 449.78,473.98 450.69,474.07 451.6,474.16 452.51,474.25 453.42,474.35 454.33,474.44 455.24,474.53 456.15,474.62 457.06,474.71 457.97,474.8 458.88,474.98 459.79,475.16 460.7,475.35 461.61,475.53 462.52,475.71 463.43,475.89 464.34,476.07 465.25,476.25 466.16,476.44 467.07,476.62 467.98,476.8 468.89,477.3 469.8,477.84 470.71,478.44 471.62,479.12 472.53,479.88 473.44,480.76 474.35,481.8 475.26,483.08 476.17,484.72 477.08,487.04 477.99,491 478.9,510 479.81,491 480.72,485.4 481.63,482.13 482.54,479.8 483.45,478 484.36,476.53 485.27,475.28 486.18,474.2 487.09,473.25 488,472.4 488.91,471.91 489.82,471.42 490.73,470.93 491.64,470.44 492.55,469.95 493.46,469.45 494.37,468.96 495.28,468.47 496.19,467.98 497.1,467.49 498.01,467 498.92,466.76 499.83,466.53 500.74,466.29 501.65,466.05 502.56,465.82 503.47,465.58 504.38,465.35 505.29,465.11 506.2,464.87 507.11,464.64 508.02,464.4 508.93,464.22 509.84,464.04 510.75,463.85 511.66,463.67 512.57,463.49 513.48,463.31 514.39,463.13 515.3,462.95 516.21,462.76 517.12,462.58 518.03,462.4 518.94,462.29 519.85,462.18 520.76,462.07 521.67,461.96 522.58,461.85 523.49,461.75 524.4,461.64 525.31,461.53 526.22,461.42 527.13,461.31 528.04,461.2 528.95,461.11 529.86,461.02 530.77,460.93 531.68,460.84 532.59,460.75 533.5,460.65 534.41,460.56 535.32,460.47 536.23,460.38 537.14,460.29 538.05,460.2 538.96,460.13 539.87,460.05 540.78,459.98 541.69,459.91 542.6,459.84 543.51,459.76 544.42,459.69 545.33,459.62 546.24,459.55 547.15,459.47 548.06,459.4 548.97,459.33 549.88,459.25 550.79,459.18 551.7,459.11 552.61,459.04 553.52,458.96 554.43,458.89 555.34,458.82 556.25,458.75 557.16,458.67 558.07,458.6 558.98,458.55 559.89,458.49 560.8,458.44 561.71,458.38 562.62,458.33 563.53,458.27 564.44,458.22 565.35,458.16 566.26,458.11 567.17,458.05 568.08,458"/>
<rect x="385.7" y="487.4" width="4.4" height="4.4" fill="#000"/>
<rect x="395.71" y="488.8" width="4.4" height="4.4" fill="#000"/>
<rect x="405.72" y="490.8" width="4.4" height="4.4" fill="#000"/>
<rect x="415.73" y="492.8" width="4.4" height="4.4" fill="#000"/>
<rect x="425.74" y="495.4" width="4.4" height="4.4" fill="#000"/>
<rect x="435.75" y="499.4" width="4.4" height="4.4" fill="#000"/>
<rect x="445.76" y="505.2" width="4.4" height="4.4" fill="#000"/>
<rect x="455.77" y="510.4" width="4.4" height="4.4" fill="#000"/>
<rect x="465.78" y="518.8" width="4.4" height="4.4" fill="#000"/>
<rect x="475.79" y="545.4" width="4.4" height="4.4" fill="#000"/>
<rect x="485.8" y="526.8" width="4.4" height="4.4" fill="#000"/>
<rect x="495.81" y="521.8" width="4.4" height="4.4" fill="#000"/>
<rect x="505.82" y="519.2" width="4.4" height="4.4" fill="#000"/>
<rect x="515.83" y="517" width="4.4" height="4.4" fill="#000"/>
<rect x="525.84" y="514.6" width="4.4" height="4.4" fill="#000"/>
<rect x="535.85" y="511.8" width="4.4" height="4.4" fill="#000"/>
<rect x="545.86" y="509.8" width="4.4" height="4.4" fill="#000"/>
<rect x="555.87" y="507.4" width="4.4" height="4.4" fill="#000"/>
<rect x="565.88" y="505.4" width="4.4" height="4.4" fill="#000"/>
<polygon points="387.9,473.36 384.9,478.76 390.9,478.76" fill="#00f"/>
<polygon points="397.91,475.96 394.91,481.36 400.91,481.36" fill="#00f"/>
<polygon points="407.92,477.76 404.92,483.16 410.92,483.16" fill="#00f"/>
<polygon points="417.93,479.36 414.93,484.76 420.93,484.76" fill="#00f"/>
<polygon points="427.94,481.16 424.94,486.56 430.94,486.56" fill="#00f"/>
<polygon points="437.95,482.96 434.95,488.36 440.95,488.36" fill="#00f"/>
<polygon points="447.96,485.76 444.96,491.16 450.96,491.16" fill="#00f"/>
<polygon points="457.97,488.76 454.97,494.16 460.97,494.16" fill="#00f"/>
<polygon points="467.98,494.36 464.98,499.76 470.98,499.76" fill="#00f"/>
<polygon points="477.99,514.16 474.99,519.56 480.99,519.56" fill="#00f"/>
<polygon points="488,496.36 485,501.76 491,501.76" fill="#00f"/>
<polygon points="498.01,491.16 495.01,496.56 501.01,496.56" fill="#00f"/>
<polygon points="508.02,487.76 505.02,493.16 511.02,493.16" fill="#00f"/>
<polygon points="518.03,485.76 515.03,491.16 521.03,491.16" fill="#00f"/>
<polygon points="528.04,483.76 525.04,489.16 531.04,489.16" fill="#00f"/>
<polygon points="538.05,482.36 535.05,487.76 541.05,487.76" fill="#00f"/>
<polygon points="548.06,481.16 545.06,486.56 551.06,486.56" fill="#00f"/>
<polygon points="558.07,480.36 555.07,485.76 561.07,485.76" fill="#00f"/>
<polygon points="568.08,479.36 565.08,484.76 571.08,484.76" fill="#00f"/>
<circle cx="387.9" cy="470.6" r="2.2" fill="#fff" stroke="#f00" stroke-width="0.8"/>
<circle cx="397.91" cy="471.2" r="2.2" fill="#fff" stroke="#f00" stroke-width="0.8"/>
<circle cx="407.92" cy="471.6" r="2.2" fill="#fff" stroke="#f00" stroke-width="0.8"/>
<circle cx="417.93" cy="472" r="2.2" fill="#fff" stroke="#f00" stroke-width="0.8"/>
<circle cx="427.94" cy="472.6" r="2.2" fill="#fff" stroke="#f00" stroke-width="0.8"/>
<circle cx="437.95" cy="473.2" r="2.2" fill="#fff" stroke="#f00" stroke-width="0.8"/>
<circle cx="447.96" cy="473.8" r="2.2" fill="#fff" stroke="#f00" stroke-width="0.8"/>
<circle cx="457.97" cy="474.8" r="2.2" fill="#fff" stroke="#f00" stroke-width="0.8"/>
<circle cx="467.98" cy="476.8" r="2.2" fill="#fff" stroke="#f00" stroke-width="0.8"/>
<circle cx="477.99" cy="491" r="2.2" fill="#fff" stroke="#f00" stroke-width="0.8"/>
<circle cx="488" cy="472.4" r="2.2" fill="#fff" stroke="#f00" stroke-width="0.8"/>
<circle cx="498.01" cy="467" r="2.2" fill="#fff" stroke="#f00" stroke-width="0.8"/>
<circle cx="508.02" cy="464.4" r="2.2" fill="#fff" stroke="#f00" stroke-width="0.8"/>
<circle cx="518.03" cy="462.4" r="2.2" fill="#fff" stroke="#f00" stroke-width="0.8"/>
<circle cx="528.04" cy="461.2" r="2.2" fill="#fff" stroke="#f00" stroke-width="0.8"/>
<circle cx="538.05" cy="460.2" r="2.2" fill="#fff" stroke="#f00" stroke-width="0.8"/>
<circle cx="548.06" cy="459.4" r="2.2" fill="#fff" stroke="#f00" stroke-width="0.8"/>
<circle cx="558.07" cy="458.6" r="2.2" fill="#fff" stroke="#f00" stroke-width="0.8"/>
<circle cx="568.08" cy="458" r="2.2" fill="#fff" stroke="#f00" stroke-width="0.8"/>
<line x1="530.4" y1="562" x2="546.6" y2="562" stroke="#000" stroke-width="0.8" />
<rect x="536.4" y="559.9" width="4.2" height="4.2" fill="#000"/>
<text x="549" y="564.71" font-family='"Liberation Serif", "Times New Roman", Times, serif' font-size="8.2" text-anchor="start" fill="#111" >Dark</text>
<line x1="530.4" y1="572.4" x2="546.6" y2="572.4" stroke="#f00" stroke-width="0.8" />
<circle cx="538.5" cy="572.4" r="2.3" fill="#fff" stroke="#f00" stroke-width="0.8"/>
<text x="549" y="575.11" font-family='"Liberation Serif", "Times New Roman", Times, serif' font-size="8.2" text-anchor="start" fill="#111" >360 nm</text>
<line x1="530.4" y1="582.4" x2="546.6" y2="582.4" stroke="#00f" stroke-width="0.8" />
<polygon points="538.5,579.38 535.7,584.42 541.3,584.42" fill="#00f"/>
<text x="549" y="585.11" font-family='"Liberation Serif", "Times New Roman", Times, serif' font-size="8.2" text-anchor="start" fill="#111" >400 nm</text>
<polyline fill="none" stroke="#000" stroke-width="0.8" stroke-linejoin="round"  points="214.3,169.5 222.55,167.9 230.8,166 239.05,164.6 247.3,163.2 255.55,162.5 263.8,70.2 272.05,63.4 280.3,102.7 288.55,150.8 296.8,178.5 305.05,200.2 313.3,218.4 321.55,235 329.8,250.7 338.05,264.7 346.3,275.9 354.55,285 362.8,283.8 371.05,282.7 379.3,280.8 387.55,279.2 395.8,276.8 404.05,275.2 412.3,273.1 420.55,270.2 428.8,268 437.05,265.3 445.3,262.6 453.55,260.7 461.8,257 470.05,252.8 478.3,253.5 486.55,253.7 494.8,254.2 503.05,255.6 511.3,256.3 519.55,258.9 527.8,261.9 536.05,265.2 544.3,262.6"/>
<rect x="211" y="166.2" width="6.6" height="6.6" fill="#000"/>
<rect x="219.25" y="164.6" width="6.6" height="6.6" fill="#000"/>
<rect x="227.5" y="162.7" width="6.6" height="6.6" fill="#000"/>
<rect x="235.75" y="161.3" width="6.6" height="6.6" fill="#000"/>
<rect x="244" y="159.9" width="6.6" height="6.6" fill="#000"/>
<rect x="252.25" y="159.2" width="6.6" height="6.6" fill="#000"/>
<rect x="260.5" y="66.9" width="6.6" height="6.6" fill="#000"/>
<rect x="268.75" y="60.1" width="6.6" height="6.6" fill="#000"/>
<rect x="277" y="99.4" width="6.6" height="6.6" fill="#000"/>
<rect x="285.25" y="147.5" width="6.6" height="6.6" fill="#000"/>
<rect x="293.5" y="175.2" width="6.6" height="6.6" fill="#000"/>
<rect x="301.75" y="196.9" width="6.6" height="6.6" fill="#000"/>
<rect x="310" y="215.1" width="6.6" height="6.6" fill="#000"/>
<rect x="318.25" y="231.7" width="6.6" height="6.6" fill="#000"/>
<rect x="326.5" y="247.4" width="6.6" height="6.6" fill="#000"/>
<rect x="334.75" y="261.4" width="6.6" height="6.6" fill="#000"/>
<rect x="343" y="272.6" width="6.6" height="6.6" fill="#000"/>
<rect x="351.25" y="281.7" width="6.6" height="6.6" fill="#000"/>
<rect x="359.5" y="280.5" width="6.6" height="6.6" fill="#000"/>
<rect x="367.75" y="279.4" width="6.6" height="6.6" fill="#000"/>
<rect x="376" y="277.5" width="6.6" height="6.6" fill="#000"/>
<rect x="384.25" y="275.9" width="6.6" height="6.6" fill="#000"/>
<rect x="392.5" y="273.5" width="6.6" height="6.6" fill="#000"/>
<rect x="400.75" y="271.9" width="6.6" height="6.6" fill="#000"/>
<rect x="409" y="269.8" width="6.6" height="6.6" fill="#000"/>
<rect x="417.25" y="266.9" width="6.6" height="6.6" fill="#000"/>
<rect x="425.5" y="264.7" width="6.6" height="6.6" fill="#000"/>
<rect x="433.75" y="262" width="6.6" height="6.6" fill="#000"/>
<rect x="442" y="259.3" width="6.6" height="6.6" fill="#000"/>
<rect x="450.25" y="257.4" width="6.6" height="6.6" fill="#000"/>
<rect x="458.5" y="253.7" width="6.6" height="6.6" fill="#000"/>
<rect x="466.75" y="249.5" width="6.6" height="6.6" fill="#000"/>
<rect x="475" y="250.2" width="6.6" height="6.6" fill="#000"/>
<rect x="483.25" y="250.4" width="6.6" height="6.6" fill="#000"/>
<rect x="491.5" y="250.9" width="6.6" height="6.6" fill="#000"/>
<rect x="499.75" y="252.3" width="6.6" height="6.6" fill="#000"/>
<rect x="508" y="253" width="6.6" height="6.6" fill="#000"/>
<rect x="516.25" y="255.6" width="6.6" height="6.6" fill="#000"/>
<rect x="524.5" y="258.6" width="6.6" height="6.6" fill="#000"/>
<rect x="532.75" y="261.9" width="6.6" height="6.6" fill="#000"/>
<rect x="541" y="259.3" width="6.6" height="6.6" fill="#000"/>
<polyline fill="none" stroke="#f00" stroke-width="0.8" stroke-linejoin="round"  points="214.3,187 222.55,186 230.8,185.4 239.05,184.7 247.3,183.7 255.55,182.6 263.8,57.6 272.05,51.5 280.3,92.9 288.55,144.5 296.8,170.4 305.05,189 313.3,205.6 321.55,221.7 329.8,235 338.05,249 346.3,262.8 354.55,275 362.8,280.6 371.05,285 379.3,285.7 387.55,286.4 395.8,286.9 404.05,287.3 412.3,288 420.55,285.5 428.8,283.1 437.05,280.7 445.3,278.3 453.55,275.5 461.8,271.3 470.05,267.3 478.3,267.3 486.55,268.2 494.8,267.8 503.05,268.9 511.3,269.4 519.55,270.3 527.8,275.9 536.05,274.8 544.3,275"/>
<circle cx="214.3" cy="187" r="3.6" fill="#f00" stroke="none" stroke-width="0"/>
<circle cx="222.55" cy="186" r="3.6" fill="#f00" stroke="none" stroke-width="0"/>
<circle cx="230.8" cy="185.4" r="3.6" fill="#f00" stroke="none" stroke-width="0"/>
<circle cx="239.05" cy="184.7" r="3.6" fill="#f00" stroke="none" stroke-width="0"/>
<circle cx="247.3" cy="183.7" r="3.6" fill="#f00" stroke="none" stroke-width="0"/>
<circle cx="255.55" cy="182.6" r="3.6" fill="#f00" stroke="none" stroke-width="0"/>
<circle cx="263.8" cy="57.6" r="3.6" fill="#f00" stroke="none" stroke-width="0"/>
<circle cx="272.05" cy="51.5" r="3.6" fill="#f00" stroke="none" stroke-width="0"/>
<circle cx="280.3" cy="92.9" r="3.6" fill="#f00" stroke="none" stroke-width="0"/>
<circle cx="288.55" cy="144.5" r="3.6" fill="#f00" stroke="none" stroke-width="0"/>
<circle cx="296.8" cy="170.4" r="3.6" fill="#f00" stroke="none" stroke-width="0"/>
<circle cx="305.05" cy="189" r="3.6" fill="#f00" stroke="none" stroke-width="0"/>
<circle cx="313.3" cy="205.6" r="3.6" fill="#f00" stroke="none" stroke-width="0"/>
<circle cx="321.55" cy="221.7" r="3.6" fill="#f00" stroke="none" stroke-width="0"/>
<circle cx="329.8" cy="235" r="3.6" fill="#f00" stroke="none" stroke-width="0"/>
<circle cx="338.05" cy="249" r="3.6" fill="#f00" stroke="none" stroke-width="0"/>
<circle cx="346.3" cy="262.8" r="3.6" fill="#f00" stroke="none" stroke-width="0"/>
<circle cx="354.55" cy="275" r="3.6" fill="#f00" stroke="none" stroke-width="0"/>
<circle cx="362.8" cy="280.6" r="3.6" fill="#f00" stroke="none" stroke-width="0"/>
<circle cx="371.05" cy="285" r="3.6" fill="#f00" stroke="none" stroke-width="0"/>
<circle cx="379.3" cy="285.7" r="3.6" fill="#f00" stroke="none" stroke-width="0"/>
<circle cx="387.55" cy="286.4" r="3.6" fill="#f00" stroke="none" stroke-width="0"/>
<circle cx="395.8" cy="286.9" r="3.6" fill="#f00" stroke="none" stroke-width="0"/>
<circle cx="404.05" cy="287.3" r="3.6" fill="#f00" stroke="none" stroke-width="0"/>
<circle cx="412.3" cy="288" r="3.6" fill="#f00" stroke="none" stroke-width="0"/>
<circle cx="420.55" cy="285.5" r="3.6" fill="#f00" stroke="none" stroke-width="0"/>
<circle cx="428.8" cy="283.1" r="3.6" fill="#f00" stroke="none" stroke-width="0"/>
<circle cx="437.05" cy="280.7" r="3.6" fill="#f00" stroke="none" stroke-width="0"/>
<circle cx="445.3" cy="278.3" r="3.6" fill="#f00" stroke="none" stroke-width="0"/>
<circle cx="453.55" cy="275.5" r="3.6" fill="#f00" stroke="none" stroke-width="0"/>
<circle cx="461.8" cy="271.3" r="3.6" fill="#f00" stroke="none" stroke-width="0"/>
<circle cx="470.05" cy="267.3" r="3.6" fill="#f00" stroke="none" stroke-width="0"/>
<circle cx="478.3" cy="267.3" r="3.6" fill="#f00" stroke="none" stroke-width="0"/>
<circle cx="486.55" cy="268.2" r="3.6" fill="#f00" stroke="none" stroke-width="0"/>
<circle cx="494.8" cy="267.8" r="3.6" fill="#f00" stroke="none" stroke-width="0"/>
<circle cx="503.05" cy="268.9" r="3.6" fill="#f00" stroke="none" stroke-width="0"/>
<circle cx="511.3" cy="269.4" r="3.6" fill="#f00" stroke="none" stroke-width="0"/>
<circle cx="519.55" cy="270.3" r="3.6" fill="#f00" stroke="none" stroke-width="0"/>
<circle cx="527.8" cy="275.9" r="3.6" fill="#f00" stroke="none" stroke-width="0"/>
<circle cx="536.05" cy="274.8" r="3.6" fill="#f00" stroke="none" stroke-width="0"/>
<circle cx="544.3" cy="275" r="3.6" fill="#f00" stroke="none" stroke-width="0"/>
<polyline fill="none" stroke="#000" stroke-width="0.8" stroke-linejoin="round"  points="212,572.4 220.25,575.4 228.5,577.4 236.75,579 245,580.4 253.25,582 261.5,539.6 269.75,540 278,584.6 286.25,645 294.5,658.4 302.75,664.6 311,670.4 319.25,674.6 327.5,677.6 335.75,681.6 344,686 352.25,688.4 360.5,682.6 368.75,677.6 377,672.4 385.25,666.4 393.5,662 401.75,659.6 410,657.4 418.25,654.6 426.5,652 434.75,649 443,646 451.25,641.6 459.5,634 467.75,625.6 476,624.4 484.25,624.6 492.5,624.6 500.75,624.6 509,623 517.25,621.6 525.5,622.4 533.75,622.4 542,615.4"/>
<rect x="208.7" y="569.1" width="6.6" height="6.6" fill="#000"/>
<rect x="216.95" y="572.1" width="6.6" height="6.6" fill="#000"/>
<rect x="225.2" y="574.1" width="6.6" height="6.6" fill="#000"/>
<rect x="233.45" y="575.7" width="6.6" height="6.6" fill="#000"/>
<rect x="241.7" y="577.1" width="6.6" height="6.6" fill="#000"/>
<rect x="249.95" y="578.7" width="6.6" height="6.6" fill="#000"/>
<rect x="258.2" y="536.3" width="6.6" height="6.6" fill="#000"/>
<rect x="266.45" y="536.7" width="6.6" height="6.6" fill="#000"/>
<rect x="274.7" y="581.3" width="6.6" height="6.6" fill="#000"/>
<rect x="282.95" y="641.7" width="6.6" height="6.6" fill="#000"/>
<rect x="291.2" y="655.1" width="6.6" height="6.6" fill="#000"/>
<rect x="299.45" y="661.3" width="6.6" height="6.6" fill="#000"/>
<rect x="307.7" y="667.1" width="6.6" height="6.6" fill="#000"/>
<rect x="315.95" y="671.3" width="6.6" height="6.6" fill="#000"/>
<rect x="324.2" y="674.3" width="6.6" height="6.6" fill="#000"/>
<rect x="332.45" y="678.3" width="6.6" height="6.6" fill="#000"/>
<rect x="340.7" y="682.7" width="6.6" height="6.6" fill="#000"/>
<rect x="348.95" y="685.1" width="6.6" height="6.6" fill="#000"/>
<rect x="357.2" y="679.3" width="6.6" height="6.6" fill="#000"/>
<rect x="365.45" y="674.3" width="6.6" height="6.6" fill="#000"/>
<rect x="373.7" y="669.1" width="6.6" height="6.6" fill="#000"/>
<rect x="381.95" y="663.1" width="6.6" height="6.6" fill="#000"/>
<rect x="390.2" y="658.7" width="6.6" height="6.6" fill="#000"/>
<rect x="398.45" y="656.3" width="6.6" height="6.6" fill="#000"/>
<rect x="406.7" y="654.1" width="6.6" height="6.6" fill="#000"/>
<rect x="414.95" y="651.3" width="6.6" height="6.6" fill="#000"/>
<rect x="423.2" y="648.7" width="6.6" height="6.6" fill="#000"/>
<rect x="431.45" y="645.7" width="6.6" height="6.6" fill="#000"/>
<rect x="439.7" y="642.7" width="6.6" height="6.6" fill="#000"/>
<rect x="447.95" y="638.3" width="6.6" height="6.6" fill="#000"/>
<rect x="456.2" y="630.7" width="6.6" height="6.6" fill="#000"/>
<rect x="464.45" y="622.3" width="6.6" height="6.6" fill="#000"/>
<rect x="472.7" y="621.1" width="6.6" height="6.6" fill="#000"/>
<rect x="480.95" y="621.3" width="6.6" height="6.6" fill="#000"/>
<rect x="489.2" y="621.3" width="6.6" height="6.6" fill="#000"/>
<rect x="497.45" y="621.3" width="6.6" height="6.6" fill="#000"/>
<rect x="505.7" y="619.7" width="6.6" height="6.6" fill="#000"/>
<rect x="513.95" y="618.3" width="6.6" height="6.6" fill="#000"/>
<rect x="522.2" y="619.1" width="6.6" height="6.6" fill="#000"/>
<rect x="530.45" y="619.1" width="6.6" height="6.6" fill="#000"/>
<rect x="538.7" y="612.1" width="6.6" height="6.6" fill="#000"/>
<polyline fill="none" stroke="#f00" stroke-width="0.8" stroke-linejoin="round"  points="212,656.4 220.25,661.4 228.5,664.6 236.75,667 245,669 253.25,663.6 261.5,616 269.75,610 278,628.6 286.25,686.4 294.5,699.4 302.75,705.4 311,711 319.25,715.4 327.5,719.6 335.75,724.2 344,729.6 352.25,733 360.5,729 368.75,725.6 377,721.4 385.25,717 393.5,714.6 401.75,713.4 410,712.4 418.25,711 426.5,709 434.75,707.4 443,704.4 451.25,699.6 459.5,693 467.75,684.4 476,682.4 484.25,682.6 492.5,682.6 500.75,682.4 509,680.6 517.25,679 525.5,678.8 533.75,678.2 542,670.4"/>
<circle cx="212" cy="656.4" r="3.6" fill="#f00" stroke="none" stroke-width="0"/>
<circle cx="220.25" cy="661.4" r="3.6" fill="#f00" stroke="none" stroke-width="0"/>
<circle cx="228.5" cy="664.6" r="3.6" fill="#f00" stroke="none" stroke-width="0"/>
<circle cx="236.75" cy="667" r="3.6" fill="#f00" stroke="none" stroke-width="0"/>
<circle cx="245" cy="669" r="3.6" fill="#f00" stroke="none" stroke-width="0"/>
<circle cx="253.25" cy="663.6" r="3.6" fill="#f00" stroke="none" stroke-width="0"/>
<circle cx="261.5" cy="616" r="3.6" fill="#f00" stroke="none" stroke-width="0"/>
<circle cx="269.75" cy="610" r="3.6" fill="#f00" stroke="none" stroke-width="0"/>
<circle cx="278" cy="628.6" r="3.6" fill="#f00" stroke="none" stroke-width="0"/>
<circle cx="286.25" cy="686.4" r="3.6" fill="#f00" stroke="none" stroke-width="0"/>
<circle cx="294.5" cy="699.4" r="3.6" fill="#f00" stroke="none" stroke-width="0"/>
<circle cx="302.75" cy="705.4" r="3.6" fill="#f00" stroke="none" stroke-width="0"/>
<circle cx="311" cy="711" r="3.6" fill="#f00" stroke="none" stroke-width="0"/>
<circle cx="319.25" cy="715.4" r="3.6" fill="#f00" stroke="none" stroke-width="0"/>
<circle cx="327.5" cy="719.6" r="3.6" fill="#f00" stroke="none" stroke-width="0"/>
<circle cx="335.75" cy="724.2" r="3.6" fill="#f00" stroke="none" stroke-width="0"/>
<circle cx="344" cy="729.6" r="3.6" fill="#f00" stroke="none" stroke-width="0"/>
<circle cx="352.25" cy="733" r="3.6" fill="#f00" stroke="none" stroke-width="0"/>
<circle cx="360.5" cy="729" r="3.6" fill="#f00" stroke="none" stroke-width="0"/>
<circle cx="368.75" cy="725.6" r="3.6" fill="#f00" stroke="none" stroke-width="0"/>
<circle cx="377" cy="721.4" r="3.6" fill="#f00" stroke="none" stroke-width="0"/>
<circle cx="385.25" cy="717" r="3.6" fill="#f00" stroke="none" stroke-width="0"/>
<circle cx="393.5" cy="714.6" r="3.6" fill="#f00" stroke="none" stroke-width="0"/>
<circle cx="401.75" cy="713.4" r="3.6" fill="#f00" stroke="none" stroke-width="0"/>
<circle cx="410" cy="712.4" r="3.6" fill="#f00" stroke="none" stroke-width="0"/>
<circle cx="418.25" cy="711" r="3.6" fill="#f00" stroke="none" stroke-width="0"/>
<circle cx="426.5" cy="709" r="3.6" fill="#f00" stroke="none" stroke-width="0"/>
<circle cx="434.75" cy="707.4" r="3.6" fill="#f00" stroke="none" stroke-width="0"/>
<circle cx="443" cy="704.4" r="3.6" fill="#f00" stroke="none" stroke-width="0"/>
<circle cx="451.25" cy="699.6" r="3.6" fill="#f00" stroke="none" stroke-width="0"/>
<circle cx="459.5" cy="693" r="3.6" fill="#f00" stroke="none" stroke-width="0"/>
<circle cx="467.75" cy="684.4" r="3.6" fill="#f00" stroke="none" stroke-width="0"/>
<circle cx="476" cy="682.4" r="3.6" fill="#f00" stroke="none" stroke-width="0"/>
<circle cx="484.25" cy="682.6" r="3.6" fill="#f00" stroke="none" stroke-width="0"/>
<circle cx="492.5" cy="682.6" r="3.6" fill="#f00" stroke="none" stroke-width="0"/>
<circle cx="500.75" cy="682.4" r="3.6" fill="#f00" stroke="none" stroke-width="0"/>
<circle cx="509" cy="680.6" r="3.6" fill="#f00" stroke="none" stroke-width="0"/>
<circle cx="517.25" cy="679" r="3.6" fill="#f00" stroke="none" stroke-width="0"/>
<circle cx="525.5" cy="678.8" r="3.6" fill="#f00" stroke="none" stroke-width="0"/>
<circle cx="533.75" cy="678.2" r="3.6" fill="#f00" stroke="none" stroke-width="0"/>
<circle cx="542" cy="670.4" r="3.6" fill="#f00" stroke="none" stroke-width="0"/>
<rect x="172.5" y="20.2" width="412.7" height="307.1" fill="none" stroke="#000" stroke-width="1.45"/>
<line x1="172.5" y1="327.3" x2="172.5" y2="330.5" stroke="#000" stroke-width="1.35" />
<line x1="214.3" y1="327.3" x2="214.3" y2="333.5" stroke="#000" stroke-width="1.35" />
<line x1="214.3" y1="20.2" x2="214.3" y2="23.4" stroke="#000" stroke-width="1.35" />
<line x1="255.55" y1="327.3" x2="255.55" y2="330.5" stroke="#000" stroke-width="1.35" />
<line x1="255.55" y1="20.2" x2="255.55" y2="26.4" stroke="#000" stroke-width="1.35" />
<line x1="296.8" y1="327.3" x2="296.8" y2="333.5" stroke="#000" stroke-width="1.35" />
<line x1="296.8" y1="20.2" x2="296.8" y2="23.4" stroke="#000" stroke-width="1.35" />
<line x1="338.05" y1="327.3" x2="338.05" y2="330.5" stroke="#000" stroke-width="1.35" />
<line x1="338.05" y1="20.2" x2="338.05" y2="26.4" stroke="#000" stroke-width="1.35" />
<line x1="379.3" y1="327.3" x2="379.3" y2="333.5" stroke="#000" stroke-width="1.35" />
<line x1="379.3" y1="20.2" x2="379.3" y2="23.4" stroke="#000" stroke-width="1.35" />
<line x1="420.55" y1="327.3" x2="420.55" y2="330.5" stroke="#000" stroke-width="1.35" />
<line x1="420.55" y1="20.2" x2="420.55" y2="26.4" stroke="#000" stroke-width="1.35" />
<line x1="461.8" y1="327.3" x2="461.8" y2="333.5" stroke="#000" stroke-width="1.35" />
<line x1="461.8" y1="20.2" x2="461.8" y2="23.4" stroke="#000" stroke-width="1.35" />
<line x1="503.05" y1="327.3" x2="503.05" y2="330.5" stroke="#000" stroke-width="1.35" />
<line x1="503.05" y1="20.2" x2="503.05" y2="26.4" stroke="#000" stroke-width="1.35" />
<line x1="544.3" y1="327.3" x2="544.3" y2="333.5" stroke="#000" stroke-width="1.35" />
<line x1="544.3" y1="20.2" x2="544.3" y2="23.4" stroke="#000" stroke-width="1.35" />
<line x1="585.2" y1="327.3" x2="585.2" y2="330.5" stroke="#000" stroke-width="1.35" />
<line x1="166.1" y1="20.2" x2="172.5" y2="20.2" stroke="#000" stroke-width="1.45" />
<line x1="169" y1="55.98" x2="172.5" y2="55.98" stroke="#000" stroke-width="1.2" />
<line x1="169" y1="46.96" x2="172.5" y2="46.96" stroke="#000" stroke-width="1.2" />
<line x1="169" y1="40.57" x2="172.5" y2="40.57" stroke="#000" stroke-width="1.2" />
<line x1="169" y1="35.61" x2="172.5" y2="35.61" stroke="#000" stroke-width="1.2" />
<line x1="169" y1="31.55" x2="172.5" y2="31.55" stroke="#000" stroke-width="1.2" />
<line x1="169" y1="28.13" x2="172.5" y2="28.13" stroke="#000" stroke-width="1.2" />
<line x1="169" y1="25.16" x2="172.5" y2="25.16" stroke="#000" stroke-width="1.2" />
<line x1="169" y1="22.54" x2="172.5" y2="22.54" stroke="#000" stroke-width="1.2" />
<line x1="166.1" y1="71.38" x2="172.5" y2="71.38" stroke="#000" stroke-width="1.45" />
<line x1="169" y1="107.16" x2="172.5" y2="107.16" stroke="#000" stroke-width="1.2" />
<line x1="169" y1="98.15" x2="172.5" y2="98.15" stroke="#000" stroke-width="1.2" />
<line x1="169" y1="91.75" x2="172.5" y2="91.75" stroke="#000" stroke-width="1.2" />
<line x1="169" y1="86.79" x2="172.5" y2="86.79" stroke="#000" stroke-width="1.2" />
<line x1="169" y1="82.74" x2="172.5" y2="82.74" stroke="#000" stroke-width="1.2" />
<line x1="169" y1="79.31" x2="172.5" y2="79.31" stroke="#000" stroke-width="1.2" />
<line x1="169" y1="76.34" x2="172.5" y2="76.34" stroke="#000" stroke-width="1.2" />
<line x1="169" y1="73.73" x2="172.5" y2="73.73" stroke="#000" stroke-width="1.2" />
<line x1="166.1" y1="122.57" x2="172.5" y2="122.57" stroke="#000" stroke-width="1.45" />
<line x1="169" y1="158.34" x2="172.5" y2="158.34" stroke="#000" stroke-width="1.2" />
<line x1="169" y1="149.33" x2="172.5" y2="149.33" stroke="#000" stroke-width="1.2" />
<line x1="169" y1="142.93" x2="172.5" y2="142.93" stroke="#000" stroke-width="1.2" />
<line x1="169" y1="137.97" x2="172.5" y2="137.97" stroke="#000" stroke-width="1.2" />
<line x1="169" y1="133.92" x2="172.5" y2="133.92" stroke="#000" stroke-width="1.2" />
<line x1="169" y1="130.5" x2="172.5" y2="130.5" stroke="#000" stroke-width="1.2" />
<line x1="169" y1="127.53" x2="172.5" y2="127.53" stroke="#000" stroke-width="1.2" />
<line x1="169" y1="124.91" x2="172.5" y2="124.91" stroke="#000" stroke-width="1.2" />
<line x1="166.1" y1="173.75" x2="172.5" y2="173.75" stroke="#000" stroke-width="1.45" />
<line x1="169" y1="209.53" x2="172.5" y2="209.53" stroke="#000" stroke-width="1.2" />
<line x1="169" y1="200.51" x2="172.5" y2="200.51" stroke="#000" stroke-width="1.2" />
<line x1="169" y1="194.12" x2="172.5" y2="194.12" stroke="#000" stroke-width="1.2" />
<line x1="169" y1="189.16" x2="172.5" y2="189.16" stroke="#000" stroke-width="1.2" />
<line x1="169" y1="185.1" x2="172.5" y2="185.1" stroke="#000" stroke-width="1.2" />
<line x1="169" y1="181.68" x2="172.5" y2="181.68" stroke="#000" stroke-width="1.2" />
<line x1="169" y1="178.71" x2="172.5" y2="178.71" stroke="#000" stroke-width="1.2" />
<line x1="169" y1="176.09" x2="172.5" y2="176.09" stroke="#000" stroke-width="1.2" />
<line x1="166.1" y1="224.93" x2="172.5" y2="224.93" stroke="#000" stroke-width="1.45" />
<line x1="169" y1="260.71" x2="172.5" y2="260.71" stroke="#000" stroke-width="1.2" />
<line x1="169" y1="251.7" x2="172.5" y2="251.7" stroke="#000" stroke-width="1.2" />
<line x1="169" y1="245.3" x2="172.5" y2="245.3" stroke="#000" stroke-width="1.2" />
<line x1="169" y1="240.34" x2="172.5" y2="240.34" stroke="#000" stroke-width="1.2" />
<line x1="169" y1="236.29" x2="172.5" y2="236.29" stroke="#000" stroke-width="1.2" />
<line x1="169" y1="232.86" x2="172.5" y2="232.86" stroke="#000" stroke-width="1.2" />
<line x1="169" y1="229.89" x2="172.5" y2="229.89" stroke="#000" stroke-width="1.2" />
<line x1="169" y1="227.28" x2="172.5" y2="227.28" stroke="#000" stroke-width="1.2" />
<line x1="166.1" y1="276.12" x2="172.5" y2="276.12" stroke="#000" stroke-width="1.45" />
<line x1="169" y1="311.89" x2="172.5" y2="311.89" stroke="#000" stroke-width="1.2" />
<line x1="169" y1="302.88" x2="172.5" y2="302.88" stroke="#000" stroke-width="1.2" />
<line x1="169" y1="296.48" x2="172.5" y2="296.48" stroke="#000" stroke-width="1.2" />
<line x1="169" y1="291.52" x2="172.5" y2="291.52" stroke="#000" stroke-width="1.2" />
<line x1="169" y1="287.47" x2="172.5" y2="287.47" stroke="#000" stroke-width="1.2" />
<line x1="169" y1="284.05" x2="172.5" y2="284.05" stroke="#000" stroke-width="1.2" />
<line x1="169" y1="281.08" x2="172.5" y2="281.08" stroke="#000" stroke-width="1.2" />
<line x1="169" y1="278.46" x2="172.5" y2="278.46" stroke="#000" stroke-width="1.2" />
<line x1="166.1" y1="327.3" x2="172.5" y2="327.3" stroke="#000" stroke-width="1.45" />
<line x1="581.9" y1="51.26" x2="585.2" y2="51.26" stroke="#000" stroke-width="1.45" />
<line x1="578.8" y1="81.97" x2="585.2" y2="81.97" stroke="#000" stroke-width="1.45" />
<line x1="581.9" y1="112.68" x2="585.2" y2="112.68" stroke="#000" stroke-width="1.45" />
<line x1="578.8" y1="143.39" x2="585.2" y2="143.39" stroke="#000" stroke-width="1.45" />
<line x1="581.9" y1="174.1" x2="585.2" y2="174.1" stroke="#000" stroke-width="1.45" />
<line x1="578.8" y1="204.81" x2="585.2" y2="204.81" stroke="#000" stroke-width="1.45" />
<line x1="581.9" y1="235.52" x2="585.2" y2="235.52" stroke="#000" stroke-width="1.45" />
<line x1="578.8" y1="266.23" x2="585.2" y2="266.23" stroke="#000" stroke-width="1.45" />
<line x1="581.9" y1="296.94" x2="585.2" y2="296.94" stroke="#000" stroke-width="1.45" />
<text x="155.59" y="18.3" font-family='"Liberation Sans", Arial, Helvetica, sans-serif' font-size="12.6" text-anchor="start" fill="#000" >1</text>
<text x="155.19" y="27.5" font-family='"Liberation Sans", Arial, Helvetica, sans-serif' font-size="19.5" text-anchor="end" fill="#000" >10</text>
<text x="155.59" y="69.48" font-family='"Liberation Sans", Arial, Helvetica, sans-serif' font-size="12.6" text-anchor="start" fill="#000" >0</text>
<text x="155.19" y="78.68" font-family='"Liberation Sans", Arial, Helvetica, sans-serif' font-size="19.5" text-anchor="end" fill="#000" >10</text>
<text x="151.4" y="120.67" font-family='"Liberation Sans", Arial, Helvetica, sans-serif' font-size="12.6" text-anchor="start" fill="#000" >-1</text>
<text x="151" y="129.87" font-family='"Liberation Sans", Arial, Helvetica, sans-serif' font-size="19.5" text-anchor="end" fill="#000" >10</text>
<text x="151.4" y="171.85" font-family='"Liberation Sans", Arial, Helvetica, sans-serif' font-size="12.6" text-anchor="start" fill="#000" >-2</text>
<text x="151" y="181.05" font-family='"Liberation Sans", Arial, Helvetica, sans-serif' font-size="19.5" text-anchor="end" fill="#000" >10</text>
<text x="151.4" y="223.03" font-family='"Liberation Sans", Arial, Helvetica, sans-serif' font-size="12.6" text-anchor="start" fill="#000" >-3</text>
<text x="151" y="232.23" font-family='"Liberation Sans", Arial, Helvetica, sans-serif' font-size="19.5" text-anchor="end" fill="#000" >10</text>
<text x="151.4" y="274.22" font-family='"Liberation Sans", Arial, Helvetica, sans-serif' font-size="12.6" text-anchor="start" fill="#000" >-4</text>
<text x="151" y="283.42" font-family='"Liberation Sans", Arial, Helvetica, sans-serif' font-size="19.5" text-anchor="end" fill="#000" >10</text>
<text x="151.4" y="325.4" font-family='"Liberation Sans", Arial, Helvetica, sans-serif' font-size="12.6" text-anchor="start" fill="#000" >-5</text>
<text x="151" y="334.6" font-family='"Liberation Sans", Arial, Helvetica, sans-serif' font-size="19.5" text-anchor="end" fill="#000" >10</text>
<text x="214.3" y="352.7" font-family='"Liberation Sans", Arial, Helvetica, sans-serif' font-size="19.5" text-anchor="middle" fill="#000" >300</text>
<text x="296.8" y="352.7" font-family='"Liberation Sans", Arial, Helvetica, sans-serif' font-size="19.5" text-anchor="middle" fill="#000" >400</text>
<text x="379.3" y="352.7" font-family='"Liberation Sans", Arial, Helvetica, sans-serif' font-size="19.5" text-anchor="middle" fill="#000" >500</text>
<text x="461.8" y="352.7" font-family='"Liberation Sans", Arial, Helvetica, sans-serif' font-size="19.5" text-anchor="middle" fill="#000" >600</text>
<text x="544.3" y="352.7" font-family='"Liberation Sans", Arial, Helvetica, sans-serif' font-size="19.5" text-anchor="middle" fill="#000" >700</text>
<text x="378.85" y="386.5" font-family='"Liberation Sans", Arial, Helvetica, sans-serif' font-size="23.15" text-anchor="middle" fill="#000" >Wavelength [nm]</text>
<text transform="translate(114.6,188.35) rotate(-90)" font-family='"Liberation Sans", Arial, Helvetica, sans-serif' font-size="23.15" text-anchor="middle" fill="#000">UV-visible extinction ratio [au]</text>
<rect x="170.5" y="441.3" width="412.5" height="306.9" fill="none" stroke="#000" stroke-width="1.45"/>
<line x1="170.5" y1="748.2" x2="170.5" y2="751.4" stroke="#000" stroke-width="1.35" />
<line x1="212" y1="748.2" x2="212" y2="754.4" stroke="#000" stroke-width="1.35" />
<line x1="212" y1="441.3" x2="212" y2="444.5" stroke="#000" stroke-width="1.35" />
<line x1="253.25" y1="748.2" x2="253.25" y2="751.4" stroke="#000" stroke-width="1.35" />
<line x1="253.25" y1="441.3" x2="253.25" y2="447.5" stroke="#000" stroke-width="1.35" />
<line x1="294.5" y1="748.2" x2="294.5" y2="754.4" stroke="#000" stroke-width="1.35" />
<line x1="294.5" y1="441.3" x2="294.5" y2="444.5" stroke="#000" stroke-width="1.35" />
<line x1="335.75" y1="748.2" x2="335.75" y2="751.4" stroke="#000" stroke-width="1.35" />
<line x1="335.75" y1="441.3" x2="335.75" y2="447.5" stroke="#000" stroke-width="1.35" />
<line x1="377" y1="748.2" x2="377" y2="754.4" stroke="#000" stroke-width="1.35" />
<line x1="377" y1="441.3" x2="377" y2="444.5" stroke="#000" stroke-width="1.35" />
<line x1="418.25" y1="748.2" x2="418.25" y2="751.4" stroke="#000" stroke-width="1.35" />
<line x1="418.25" y1="441.3" x2="418.25" y2="447.5" stroke="#000" stroke-width="1.35" />
<line x1="459.5" y1="748.2" x2="459.5" y2="754.4" stroke="#000" stroke-width="1.35" />
<line x1="459.5" y1="441.3" x2="459.5" y2="444.5" stroke="#000" stroke-width="1.35" />
<line x1="500.75" y1="748.2" x2="500.75" y2="751.4" stroke="#000" stroke-width="1.35" />
<line x1="500.75" y1="441.3" x2="500.75" y2="447.5" stroke="#000" stroke-width="1.35" />
<line x1="542" y1="748.2" x2="542" y2="754.4" stroke="#000" stroke-width="1.35" />
<line x1="542" y1="441.3" x2="542" y2="444.5" stroke="#000" stroke-width="1.35" />
<line x1="583" y1="748.2" x2="583" y2="751.4" stroke="#000" stroke-width="1.35" />
<line x1="164.1" y1="441.3" x2="170.5" y2="441.3" stroke="#000" stroke-width="1.45" />
<line x1="167" y1="494.93" x2="170.5" y2="494.93" stroke="#000" stroke-width="1.2" />
<line x1="167" y1="481.42" x2="170.5" y2="481.42" stroke="#000" stroke-width="1.2" />
<line x1="167" y1="471.83" x2="170.5" y2="471.83" stroke="#000" stroke-width="1.2" />
<line x1="167" y1="464.4" x2="170.5" y2="464.4" stroke="#000" stroke-width="1.2" />
<line x1="167" y1="458.32" x2="170.5" y2="458.32" stroke="#000" stroke-width="1.2" />
<line x1="167" y1="453.18" x2="170.5" y2="453.18" stroke="#000" stroke-width="1.2" />
<line x1="167" y1="448.74" x2="170.5" y2="448.74" stroke="#000" stroke-width="1.2" />
<line x1="167" y1="444.81" x2="170.5" y2="444.81" stroke="#000" stroke-width="1.2" />
<line x1="164.1" y1="518.02" x2="170.5" y2="518.02" stroke="#000" stroke-width="1.45" />
<line x1="167" y1="571.65" x2="170.5" y2="571.65" stroke="#000" stroke-width="1.2" />
<line x1="167" y1="558.14" x2="170.5" y2="558.14" stroke="#000" stroke-width="1.2" />
<line x1="167" y1="548.56" x2="170.5" y2="548.56" stroke="#000" stroke-width="1.2" />
<line x1="167" y1="541.12" x2="170.5" y2="541.12" stroke="#000" stroke-width="1.2" />
<line x1="167" y1="535.05" x2="170.5" y2="535.05" stroke="#000" stroke-width="1.2" />
<line x1="167" y1="529.91" x2="170.5" y2="529.91" stroke="#000" stroke-width="1.2" />
<line x1="167" y1="525.46" x2="170.5" y2="525.46" stroke="#000" stroke-width="1.2" />
<line x1="167" y1="521.54" x2="170.5" y2="521.54" stroke="#000" stroke-width="1.2" />
<line x1="164.1" y1="594.75" x2="170.5" y2="594.75" stroke="#000" stroke-width="1.45" />
<line x1="167" y1="648.38" x2="170.5" y2="648.38" stroke="#000" stroke-width="1.2" />
<line x1="167" y1="634.87" x2="170.5" y2="634.87" stroke="#000" stroke-width="1.2" />
<line x1="167" y1="625.28" x2="170.5" y2="625.28" stroke="#000" stroke-width="1.2" />
<line x1="167" y1="617.85" x2="170.5" y2="617.85" stroke="#000" stroke-width="1.2" />
<line x1="167" y1="611.77" x2="170.5" y2="611.77" stroke="#000" stroke-width="1.2" />
<line x1="167" y1="606.63" x2="170.5" y2="606.63" stroke="#000" stroke-width="1.2" />
<line x1="167" y1="602.19" x2="170.5" y2="602.19" stroke="#000" stroke-width="1.2" />
<line x1="167" y1="598.26" x2="170.5" y2="598.26" stroke="#000" stroke-width="1.2" />
<line x1="164.1" y1="671.48" x2="170.5" y2="671.48" stroke="#000" stroke-width="1.45" />
<line x1="167" y1="725.1" x2="170.5" y2="725.1" stroke="#000" stroke-width="1.2" />
<line x1="167" y1="711.59" x2="170.5" y2="711.59" stroke="#000" stroke-width="1.2" />
<line x1="167" y1="702.01" x2="170.5" y2="702.01" stroke="#000" stroke-width="1.2" />
<line x1="167" y1="694.57" x2="170.5" y2="694.57" stroke="#000" stroke-width="1.2" />
<line x1="167" y1="688.5" x2="170.5" y2="688.5" stroke="#000" stroke-width="1.2" />
<line x1="167" y1="683.36" x2="170.5" y2="683.36" stroke="#000" stroke-width="1.2" />
<line x1="167" y1="678.91" x2="170.5" y2="678.91" stroke="#000" stroke-width="1.2" />
<line x1="167" y1="674.99" x2="170.5" y2="674.99" stroke="#000" stroke-width="1.2" />
<line x1="164.1" y1="748.2" x2="170.5" y2="748.2" stroke="#000" stroke-width="1.45" />
<line x1="579.7" y1="472.34" x2="583" y2="472.34" stroke="#000" stroke-width="1.45" />
<line x1="576.6" y1="503.03" x2="583" y2="503.03" stroke="#000" stroke-width="1.45" />
<line x1="579.7" y1="533.72" x2="583" y2="533.72" stroke="#000" stroke-width="1.45" />
<line x1="576.6" y1="564.41" x2="583" y2="564.41" stroke="#000" stroke-width="1.45" />
<line x1="579.7" y1="595.1" x2="583" y2="595.1" stroke="#000" stroke-width="1.45" />
<line x1="576.6" y1="625.79" x2="583" y2="625.79" stroke="#000" stroke-width="1.45" />
<line x1="579.7" y1="656.48" x2="583" y2="656.48" stroke="#000" stroke-width="1.45" />
<line x1="576.6" y1="687.17" x2="583" y2="687.17" stroke="#000" stroke-width="1.45" />
<line x1="579.7" y1="717.86" x2="583" y2="717.86" stroke="#000" stroke-width="1.45" />
<text x="152.89" y="439.4" font-family='"Liberation Sans", Arial, Helvetica, sans-serif' font-size="12.6" text-anchor="start" fill="#000" >5</text>
<text x="153.49" y="449.2" font-family='"Liberation Sans", Arial, Helvetica, sans-serif' font-size="19.5" text-anchor="end" fill="#000" >10</text>
<text x="152.89" y="516.12" font-family='"Liberation Sans", Arial, Helvetica, sans-serif' font-size="12.6" text-anchor="start" fill="#000" >4</text>
<text x="153.49" y="525.92" font-family='"Liberation Sans", Arial, Helvetica, sans-serif' font-size="19.5" text-anchor="end" fill="#000" >10</text>
<text x="152.89" y="592.85" font-family='"Liberation Sans", Arial, Helvetica, sans-serif' font-size="12.6" text-anchor="start" fill="#000" >3</text>
<text x="153.49" y="602.65" font-family='"Liberation Sans", Arial, Helvetica, sans-serif' font-size="19.5" text-anchor="end" fill="#000" >10</text>
<text x="152.89" y="669.58" font-family='"Liberation Sans", Arial, Helvetica, sans-serif' font-size="12.6" text-anchor="start" fill="#000" >2</text>
<text x="153.49" y="679.38" font-family='"Liberation Sans", Arial, Helvetica, sans-serif' font-size="19.5" text-anchor="end" fill="#000" >10</text>
<text x="152.89" y="746.3" font-family='"Liberation Sans", Arial, Helvetica, sans-serif' font-size="12.6" text-anchor="start" fill="#000" >1</text>
<text x="153.49" y="756.1" font-family='"Liberation Sans", Arial, Helvetica, sans-serif' font-size="19.5" text-anchor="end" fill="#000" >10</text>
<text x="212" y="773.6" font-family='"Liberation Sans", Arial, Helvetica, sans-serif' font-size="19.5" text-anchor="middle" fill="#000" >300</text>
<text x="294.5" y="773.6" font-family='"Liberation Sans", Arial, Helvetica, sans-serif' font-size="19.5" text-anchor="middle" fill="#000" >400</text>
<text x="377" y="773.6" font-family='"Liberation Sans", Arial, Helvetica, sans-serif' font-size="19.5" text-anchor="middle" fill="#000" >500</text>
<text x="459.5" y="773.6" font-family='"Liberation Sans", Arial, Helvetica, sans-serif' font-size="19.5" text-anchor="middle" fill="#000" >600</text>
<text x="542" y="773.6" font-family='"Liberation Sans", Arial, Helvetica, sans-serif' font-size="19.5" text-anchor="middle" fill="#000" >700</text>
<text x="376.75" y="808.2" font-family='"Liberation Sans", Arial, Helvetica, sans-serif' font-size="23.1" text-anchor="middle" fill="#000" >Wavelength [nm]</text>
<text transform="translate(117,609.65) rotate(-90)" font-family='"Liberation Sans", Arial, Helvetica, sans-serif' font-size="23.1" text-anchor="middle" fill="#000">UV-visible extinction ratio [au]</text>
<text x="185.5" y="272.6" font-family='"Liberation Sans", Arial, Helvetica, sans-serif' font-size="17.1" text-anchor="start" fill="#000" >Ga-polar GaN</text>
<line x1="184.5" y1="292.6" x2="218.7" y2="292.6" stroke="#000" stroke-width="0.9" />
<rect x="198.4" y="289.4" width="6.4" height="6.4" fill="#000"/>
<text x="224.6" y="298.2" font-family='"Liberation Sans", Arial, Helvetica, sans-serif' font-size="17.1" text-anchor="start" fill="#000" >Non-annealing</text>
<line x1="184.5" y1="313.3" x2="218.7" y2="313.3" stroke="#f00" stroke-width="0.9" />
<circle cx="201.6" cy="313.3" r="3.5" fill="#f00" stroke="none" stroke-width="0"/>
<text x="224.6" y="318.9" font-family='"Liberation Sans", Arial, Helvetica, sans-serif' font-size="17.1" text-anchor="start" fill="#000" >500 °C</text>
<text x="183.4" y="467.6" font-family='"Liberation Sans", Arial, Helvetica, sans-serif' font-size="17.15" text-anchor="start" fill="#000" >N-polar GaN</text>
<line x1="182.4" y1="486.6" x2="217.6" y2="486.6" stroke="#000" stroke-width="0.9" />
<rect x="196.8" y="483.4" width="6.4" height="6.4" fill="#000"/>
<text x="223.3" y="492.2" font-family='"Liberation Sans", Arial, Helvetica, sans-serif' font-size="17.15" text-anchor="start" fill="#000" >Non-annealing</text>
<line x1="182.4" y1="507.4" x2="217.6" y2="507.4" stroke="#f00" stroke-width="0.9" />
<circle cx="200" cy="507.4" r="3.5" fill="#f00" stroke="none" stroke-width="0"/>
<text x="223.3" y="513" font-family='"Liberation Sans", Arial, Helvetica, sans-serif' font-size="17.15" text-anchor="start" fill="#000" >500 °C</text>
<text x="549.6" y="316.8" font-family='"Liberation Sans", Arial, Helvetica, sans-serif' font-size="21.4" text-anchor="start" fill="#000" letter-spacing="1.3">(a)</text>
<text x="547" y="737.6" font-family='"Liberation Sans", Arial, Helvetica, sans-serif' font-size="22.6" text-anchor="start" fill="#000" letter-spacing="1.0">(b)</text>
<rect x="20.5" y="846.5" width="642.5" height="38" fill="#d9d9d9"/>
<rect x="20.5" y="846.5" width="224" height="114.4" fill="#d9d9d9"/>
<line x1="20.5" y1="846.5" x2="20.5" y2="960.9" stroke="#000" stroke-width="1.25" />
<line x1="244.5" y1="846.5" x2="244.5" y2="960.9" stroke="#000" stroke-width="1.25" />
<line x1="453.8" y1="846.5" x2="453.8" y2="960.9" stroke="#000" stroke-width="1.25" />
<line x1="663" y1="846.5" x2="663" y2="960.9" stroke="#000" stroke-width="1.25" />
<line x1="19.9" y1="846.5" x2="663.6" y2="846.5" stroke="#000" stroke-width="1.25" />
<line x1="19.9" y1="884.5" x2="663.6" y2="884.5" stroke="#000" stroke-width="1.25" />
<line x1="19.9" y1="922.6" x2="663.6" y2="922.6" stroke="#000" stroke-width="1.25" />
<line x1="19.9" y1="960.9" x2="663.6" y2="960.9" stroke="#000" stroke-width="1.25" />
<text x="348.35" y="873.3" font-family='"Liberation Sans", Arial, Helvetica, sans-serif' font-size="23.4" text-anchor="middle" fill="#000" >Non-annealing</text>
<text x="558.4" y="873.3" font-family='"Liberation Sans", Arial, Helvetica, sans-serif' font-size="23.4" text-anchor="middle" fill="#000" >500 °C</text>
<text x="131.7" y="911.8" font-family='"Liberation Sans", Arial, Helvetica, sans-serif' font-size="23.4" text-anchor="middle" fill="#000" >Ga-polar GaN [au]</text>
<text x="131.7" y="950.4" font-family='"Liberation Sans", Arial, Helvetica, sans-serif' font-size="23.4" text-anchor="middle" fill="#000" >N-polar GaN [au]</text>
<text x="348.55" y="911.8" font-family='"Liberation Sans", Arial, Helvetica, sans-serif' font-size="23.4" text-anchor="middle" fill="#000" >2.1 x 10<tspan font-size="15.5" dy="-7">4</tspan></text>
<text x="558.4" y="911.8" font-family='"Liberation Sans", Arial, Helvetica, sans-serif' font-size="23.4" text-anchor="middle" fill="#000" >2.4 x 10<tspan font-size="15.5" dy="-7">4</tspan></text>
<text x="349.15" y="950.4" font-family='"Liberation Sans", Arial, Helvetica, sans-serif' font-size="23.4" text-anchor="middle" fill="#000" >85.7</text>
<text x="558.4" y="950.4" font-family='"Liberation Sans", Arial, Helvetica, sans-serif' font-size="23.4" text-anchor="middle" fill="#000" >39.8</text>
<text x="342" y="1017" font-family='"Liberation Serif", "Times New Roman", Times, serif' font-size="21" text-anchor="middle" fill="#000" >(c)</text>
</svg>
</body>
</html>
